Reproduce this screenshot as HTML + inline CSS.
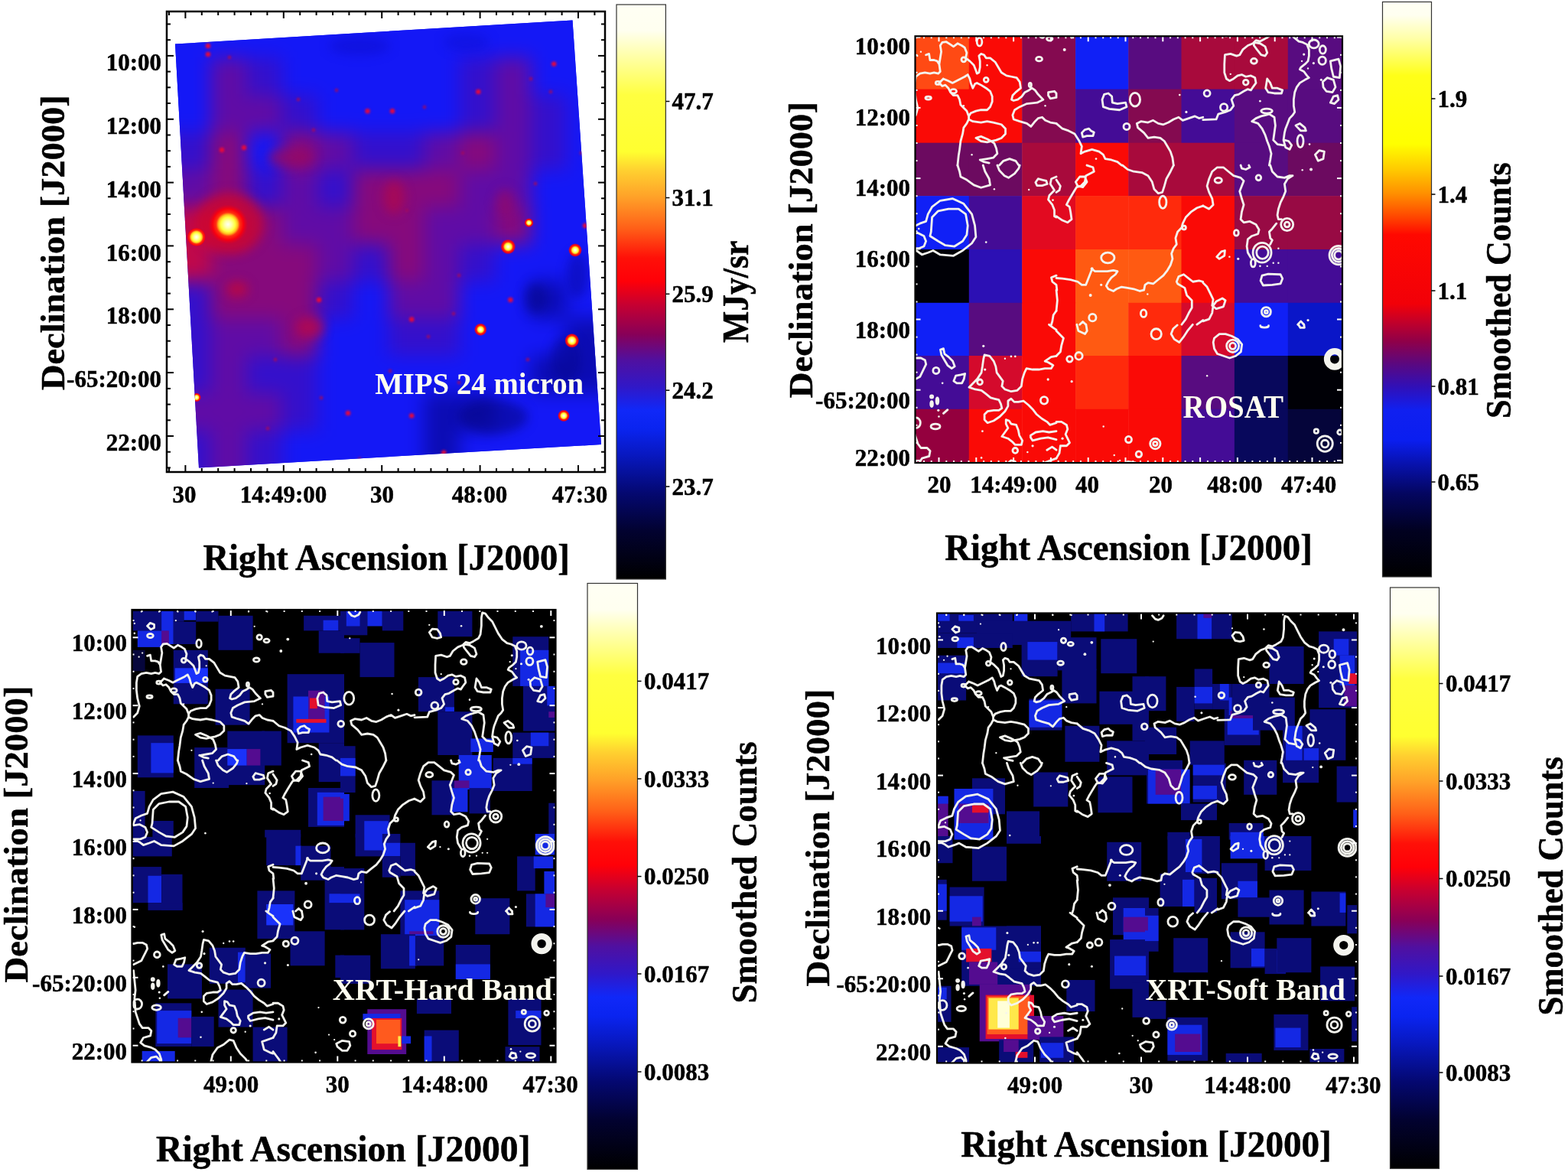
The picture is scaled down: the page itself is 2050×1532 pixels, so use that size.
<!DOCTYPE html>
<html><head><meta charset="utf-8"><title>Figure</title>
<style>html,body{margin:0;padding:0;background:#fff;}svg{display:block;}text{font-family:'Liberation Serif','Times New Roman',serif;font-weight:bold}text[fill="#000"]{stroke:#000;stroke-width:0.5px}</style>
</head><body>
<svg width="2050" height="1532" viewBox="0 0 2050 1532">
<defs><linearGradient id="cm" x1="0" y1="0" x2="0" y2="1"><stop offset="0.0" stop-color="#fffff4"/><stop offset="0.023" stop-color="#fffff0"/><stop offset="0.063" stop-color="#ffffa8"/><stop offset="0.128" stop-color="#ffff18"/><stop offset="0.247" stop-color="#ffff00"/><stop offset="0.293" stop-color="#ffc800"/><stop offset="0.333" stop-color="#ff9000"/><stop offset="0.373" stop-color="#ff4800"/><stop offset="0.405" stop-color="#ff0800"/><stop offset="0.525" stop-color="#f20008"/><stop offset="0.557" stop-color="#c2002a"/><stop offset="0.59" stop-color="#900048"/><stop offset="0.63" stop-color="#5a0880"/><stop offset="0.67" stop-color="#3010b8"/><stop offset="0.71" stop-color="#1020f0"/><stop offset="0.762" stop-color="#0a1ef0"/><stop offset="0.802" stop-color="#0812b0"/><stop offset="0.855" stop-color="#040660"/><stop offset="0.92" stop-color="#010120"/><stop offset="1.0" stop-color="#000000"/></linearGradient><linearGradient id="cm1" x1="0" y1="0" x2="0" y2="1"><stop offset="0.0" stop-color="#fffff4"/><stop offset="0.045" stop-color="#fffff0"/><stop offset="0.09" stop-color="#ffffa8"/><stop offset="0.157" stop-color="#ffff40"/><stop offset="0.256" stop-color="#ffff30"/><stop offset="0.289" stop-color="#ffd030"/><stop offset="0.336" stop-color="#ffa028"/><stop offset="0.389" stop-color="#ff6018"/><stop offset="0.441" stop-color="#ff1008"/><stop offset="0.481" stop-color="#ff0008"/><stop offset="0.521" stop-color="#c80030"/><stop offset="0.574" stop-color="#880058"/><stop offset="0.619" stop-color="#5010a0"/><stop offset="0.666" stop-color="#3018c8"/><stop offset="0.706" stop-color="#1028f8"/><stop offset="0.738" stop-color="#0a24f0"/><stop offset="0.784" stop-color="#0818c0"/><stop offset="0.851" stop-color="#040870"/><stop offset="0.916" stop-color="#020230"/><stop offset="1.0" stop-color="#000000"/></linearGradient><g id="contours" fill="none" stroke="#f4f4ee" stroke-width="2.8" stroke-linejoin="round" stroke-linecap="round"><g transform="translate(172.0 797.0) scale(0.12857)"><path vector-effect="non-scaling-stroke" d="M 20 1090 L 60 1050 L 80 980 L 60 900 L 50 820 L 50 740 L 60 680 L 100 650 L 150 640 L 200 650 L 240 640 L 280 650 L 300 630 L 290 560 L 300 500 L 310 440 L 300 380 L 320 350 L 360 345 L 400 370 L 430 390 L 470 360 L 510 380 L 540 400 L 560 450 L 550 500 L 590 530 L 630 570 L 650 620 L 660 650 L 680 640 L 690 590 L 690 530 L 680 480 L 700 460 L 730 470 L 750 500 L 790 500 L 840 540 L 870 590 L 900 640 L 950 670 L 1000 680 L 1050 690 L 1080 730 L 1090 790 L 1040 830 L 1010 860 L 1000 900 L 1020 910 L 1060 900 L 1100 870 L 1130 830 L 1170 810 L 1200 790 L 1230 810 L 1260 850 L 1290 880 L 1310 900 L 1250 930 L 1150 940 L 1080 970 L 1030 1000 L 1010 1050 L 1020 1090 L 1080 1110 L 1150 1130 L 1190 1160 L 1230 1110 L 1260 1080 L 1300 1070 L 1330 1100 L 1380 1120 L 1439 1130 M 330 700 L 380 720 L 420 740 L 460 720 L 500 700 L 540 680 L 570 660 L 590 700 L 600 740 L 620 790 L 640 750 L 660 740 L 700 760 L 750 790 L 790 820 L 810 870 L 810 920 L 790 970 L 760 1000 L 700 1000 L 650 1010 L 600 1030 L 580 1060 L 580 1090 L 560 1130 L 530 1170 L 520 1230 L 500 1300 L 490 1380 L 480 1440 L 470 1532 M 580 1090 L 620 1110 L 700 1120 L 760 1110 L 820 1120 L 900 1140 L 940 1180 L 940 1230 L 900 1270 L 850 1290 L 800 1300 L 830 1320 L 850 1370 L 860 1420 L 820 1460 L 760 1470 L 700 1480 M 330 700 L 290 740 L 320 770 L 350 760 L 380 790 L 400 830 L 430 860 L 470 860 L 490 900 L 500 950 L 530 980 L 560 1010 L 580 1060 M 160 470 L 190 460 L 200 520 L 240 520 L 270 530 L 290 560 M 880 1532 L 920 1490 L 980 1470 L 1040 1490 L 1070 1532 M 690 1480 L 730 1500 L 780 1510 M 650 1270 L 700 1255 L 760 1280 L 800 1300 L 760 1310 L 700 1300 Z M 1360 830 L 1420 820 L 1439 840 L 1439 880 L 1380 890 L 1360 860 Z M 1170 760 a 12 20 0 1 0 24 0 a 12 20 0 1 0 -24 0 M 160 165 L 190 135 L 230 150 L 230 185 L 195 200 Z M 160 265 a 30 20 0 1 0 60 0 a 30 20 0 1 0 -60 0 M 660 345 a 25 40 0 1 0 50 0 a 25 40 0 1 0 -50 0 M 508 515 a 22 22 0 1 0 44 0 a 22 22 0 1 0 -44 0 M 728 710 a 22 22 0 1 0 44 0 a 22 22 0 1 0 -44 0 M 1240 510 a 30 20 0 1 0 60 0 a 30 20 0 1 0 -60 0 M 1275 280 a 25 25 0 1 0 50 0 a 25 25 0 1 0 -50 0 M 1345 315 a 28 18 0 1 0 56 0 a 28 18 0 1 0 -56 0 M 155 885 a 28 15 0 1 0 56 0 a 28 15 0 1 0 -56 0 M 400 820 a 30 20 0 1 0 60 0 a 30 20 0 1 0 -60 0 M 255 740 a 22 15 0 1 0 44 0 a 22 15 0 1 0 -44 0" /><circle cx="1250.0" cy="170.0" r="9" stroke="none" fill="#f4f4ee"/><circle cx="450.0" cy="110.0" r="9" stroke="none" fill="#f4f4ee"/><circle cx="75.0" cy="480.0" r="9" stroke="none" fill="#f4f4ee"/><circle cx="280.0" cy="20.0" r="9" stroke="none" fill="#f4f4ee"/><circle cx="100.0" cy="20.0" r="9" stroke="none" fill="#f4f4ee"/><circle cx="470.0" cy="20.0" r="9" stroke="none" fill="#f4f4ee"/><circle cx="650.0" cy="20.0" r="9" stroke="none" fill="#f4f4ee"/><circle cx="820.0" cy="20.0" r="9" stroke="none" fill="#f4f4ee"/><circle cx="1190.0" cy="20.0" r="9" stroke="none" fill="#f4f4ee"/><circle cx="1380.0" cy="20.0" r="9" stroke="none" fill="#f4f4ee"/><circle cx="760.0" cy="570.0" r="9" stroke="none" fill="#f4f4ee"/><circle cx="1330.0" cy="960.0" r="9" stroke="none" fill="#f4f4ee"/><circle cx="610.0" cy="1430.0" r="9" stroke="none" fill="#f4f4ee"/><circle cx="530.0" cy="960.0" r="9" stroke="none" fill="#f4f4ee"/><circle cx="110.0" cy="440.0" r="9" stroke="none" fill="#f4f4ee"/><circle cx="30.0" cy="240.0" r="10.0" stroke="none" fill="#f4f4ee"/><circle cx="30.0" cy="140.0" r="9" stroke="none" fill="#f4f4ee"/></g><g transform="translate(357.0 797.0) scale(0.12857)"><path vector-effect="non-scaling-stroke" d="M 0 1130 L 60 1180 L 120 1200 L 180 1230 L 220 1290 L 250 1350 L 240 1420 L 280 1400 L 350 1380 L 420 1400 L 460 1430 L 480 1470 L 540 1480 L 600 1500 L 640 1532 M 790 1130 L 830 1110 L 900 1120 L 950 1100 L 1000 1130 L 1050 1140 L 1100 1120 L 1150 1090 L 1200 1070 L 1240 1100 L 1300 1080 L 1360 1060 L 1400 1080 L 1439 1070 M 790 1130 L 800 1170 L 860 1220 L 900 1270 L 960 1260 L 1020 1270 L 1060 1300 L 1090 1350 L 1120 1400 L 1140 1460 L 1150 1532 M 250 1220 L 280 1190 L 320 1180 L 340 1200 L 370 1215 L 360 1250 L 300 1250 L 260 1260 Z M 450 900 L 470 850 L 510 840 L 545 870 L 550 930 L 600 940 L 680 930 L 690 970 L 620 1000 L 520 990 L 460 970 Z M 722 900 a 50 65 0 1 0 100 0 a 50 65 0 1 0 -100 0 M 660 1160 a 30 30 0 1 0 60 0 a 30 30 0 1 0 -60 0 M 770 25 L 800 60 L 830 70 L 870 50 L 885 25" /><circle cx="150.0" cy="300.0" r="15.0" stroke="none" fill="#f4f4ee"/><circle cx="80.0" cy="420.0" r="15.0" stroke="none" fill="#f4f4ee"/><circle cx="1210.0" cy="855.0" r="10.0" stroke="none" fill="#f4f4ee"/><circle cx="1275.0" cy="1020.0" r="12.0" stroke="none" fill="#f4f4ee"/><circle cx="390.0" cy="1470.0" r="10.0" stroke="none" fill="#f4f4ee"/><circle cx="780.0" cy="290.0" r="9" stroke="none" fill="#f4f4ee"/></g><g transform="translate(542.0 797.0) scale(0.12857)"><path vector-effect="non-scaling-stroke" d="M 0 1095 L 130 1090 L 150 1040 L 220 1020 L 270 1000 L 300 960 L 280 900 L 310 860 L 350 850 L 400 820 L 440 800 L 470 810 L 490 780 L 520 740 L 510 690 L 470 670 L 420 680 L 380 660 L 340 670 L 300 700 L 260 720 L 230 700 L 210 640 L 210 560 L 215 470 L 270 460 L 330 480 L 360 470 L 390 420 L 440 380 L 490 360 L 520 330 L 560 340 L 600 320 L 650 290 L 670 250 L 680 160 L 680 80 L 690 30 L 720 40 L 750 80 L 790 120 L 820 180 L 850 240 L 890 300 L 940 340 L 980 350 L 1020 370 L 1040 420 L 1040 480 L 1030 530 L 1000 560 L 960 590 L 950 610 L 990 630 L 1020 670 L 1040 690 L 1000 710 L 950 740 L 920 780 L 900 830 L 890 900 L 890 960 L 900 1020 L 880 1050 L 850 1080 L 830 1130 L 810 1180 L 800 1220 L 790 1290 L 810 1360 L 850 1380 L 870 1340 L 840 1300 L 800 1290 M 480 1110 L 520 1080 L 570 1060 L 610 1050 L 650 1040 L 700 1070 L 710 1150 L 700 1220 L 690 1290 L 730 1330 L 790 1340 M 480 1110 L 540 1130 L 580 1180 L 610 1240 L 630 1300 L 650 1350 L 670 1420 L 660 1480 L 650 1532 M 570 1010 a 55 22 0 1 0 110 0 a 55 22 0 1 0 -110 0 M 150 230 L 180 195 L 230 200 L 260 240 L 270 280 L 230 290 L 180 280 Z M 500 350 L 560 360 L 610 390 L 630 450 L 610 480 L 570 470 L 530 420 L 500 380 Z M 470 530 a 30 25 0 1 0 60 0 a 30 25 0 1 0 -60 0 M 395 735 a 25 25 0 1 0 50 0 a 25 25 0 1 0 -50 0 M 10 840 a 30 30 0 1 0 60 0 a 30 30 0 1 0 -60 0 M 170 975 a 35 35 0 1 0 70 0 a 35 35 0 1 0 -70 0 M 630 700 L 660 740 L 680 790 L 730 790 L 780 810 L 770 840 L 700 840 L 640 830 L 615 790 Z M 1040 365 a 48 40 0 1 0 96 0 a 48 40 0 1 0 -96 0 M 1145 420 a 30 38 0 1 0 60 0 a 30 38 0 1 0 -60 0 M 1135 525 a 35 38 0 1 0 70 0 a 35 38 0 1 0 -70 0 M 1250 530 L 1330 510 L 1350 580 L 1340 690 L 1280 680 L 1260 600 Z M 1175 730 L 1220 690 L 1280 710 L 1300 780 L 1270 830 L 1210 820 L 1180 780 Z M 1250 930 L 1280 870 L 1320 860 L 1330 900 L 1290 940 Z M 910 1150 L 950 1130 L 1000 1170 L 1010 1200 L 960 1200 Z M 925 1300 a 30 60 0 1 0 60 0 a 30 60 0 1 0 -60 0 M 1100 1430 L 1140 1390 L 1190 1400 L 1180 1470 L 1130 1490 Z" /><circle cx="1290.0" cy="170.0" r="15.0" stroke="none" fill="#f4f4ee"/><circle cx="150.0" cy="155.0" r="9" stroke="none" fill="#f4f4ee"/><circle cx="270.0" cy="655.0" r="9" stroke="none" fill="#f4f4ee"/><circle cx="560.0" cy="915.0" r="10.0" stroke="none" fill="#f4f4ee"/><circle cx="990.0" cy="465.0" r="12.0" stroke="none" fill="#f4f4ee"/><circle cx="1085.0" cy="550.0" r="12.0" stroke="none" fill="#f4f4ee"/><circle cx="1030.0" cy="600.0" r="9" stroke="none" fill="#f4f4ee"/><circle cx="1160.0" cy="710.0" r="12.0" stroke="none" fill="#f4f4ee"/><circle cx="1045.0" cy="1330.0" r="10.0" stroke="none" fill="#f4f4ee"/><circle cx="970.0" cy="530.0" r="9" stroke="none" fill="#f4f4ee"/><circle cx="475.0" cy="165.0" r="10.0" stroke="none" fill="#f4f4ee"/></g><g transform="translate(172.0 994.0) scale(0.12857)"><path vector-effect="non-scaling-stroke" d="M 470 0 L 490 60 L 500 110 L 560 140 L 630 190 L 700 215 L 790 190 L 780 130 L 740 60 L 720 0 M 860 0 L 880 50 L 930 100 L 970 120 L 1030 80 L 1070 30 L 1080 0 M 1235 165 L 1260 130 L 1300 140 L 1340 150 L 1350 180 L 1300 195 L 1250 195 Z M 1439 110 L 1390 130 L 1380 180 L 1420 240 L 1370 290 L 1360 330 L 1400 380 L 1420 430 L 1420 490 L 1439 500 M 20 800 L 80 830 L 120 860 L 180 840 L 230 820 L 300 860 L 430 870 L 520 820 L 610 750 L 650 690 L 640 580 L 610 470 L 530 370 L 420 320 L 300 340 L 220 400 L 180 470 L 160 540 L 100 560 L 40 590 L 20 640 M 20 660 L 80 650 L 140 680 L 160 730 L 140 780 L 90 800 L 20 800 M 210 640 L 220 500 L 280 440 L 380 420 L 480 420 L 550 470 L 570 580 L 560 670 L 520 730 L 440 780 L 350 770 L 280 730 L 200 680 Z M 1439 1060 L 1390 1080 L 1400 1120 L 1439 1150 L 1445 1200 M 1439 1400 L 1410 1440 L 1400 1500 L 1390 1532" /><circle cx="750.0" cy="740.0" r="10.0" stroke="none" fill="#f4f4ee"/><circle cx="830.0" cy="230.0" r="9" stroke="none" fill="#f4f4ee"/><circle cx="1170.0" cy="235.0" r="9" stroke="none" fill="#f4f4ee"/><circle cx="1405.0" cy="335.0" r="10.0" stroke="none" fill="#f4f4ee"/><circle cx="90.0" cy="610.0" r="9" stroke="none" fill="#f4f4ee"/><circle cx="110.0" cy="850.0" r="10.0" stroke="none" fill="#f4f4ee"/></g><g transform="translate(357.0 994.0) scale(0.12857)"><path vector-effect="non-scaling-stroke" d="M 650 0 L 700 40 L 760 60 L 840 70 L 900 100 L 940 160 L 960 230 L 1000 270 L 1040 260 L 1060 200 L 1080 130 L 1120 60 L 1150 0 M 0 140 L 40 200 L 30 240 L 0 260 M 0 490 L 60 530 L 110 550 L 150 520 L 140 450 L 130 400 L 100 380 L 120 340 L 150 290 L 180 240 L 200 210 L 240 200 L 280 160 L 290 100 L 330 80 L 370 60 L 360 20 L 300 0 M 190 160 L 230 110 L 280 110 L 300 160 L 260 210 L 210 200 Z M 1010 355 a 35 60 0 1 0 70 0 a 35 60 0 1 0 -70 0 M 1439 390 L 1380 410 L 1320 450 L 1270 500 L 1240 560 L 1230 600 L 1190 640 L 1170 700 L 1180 760 L 1150 800 L 1130 850 L 1140 900 L 1120 960 L 1090 1010 L 1050 1060 L 1000 1100 L 950 1140 L 900 1130 L 870 1150 L 860 1200 L 820 1210 L 760 1190 L 700 1180 L 640 1170 L 590 1190 L 560 1210 L 510 1190 L 490 1160 L 510 1120 L 540 1080 L 580 1050 L 600 1020 L 560 1010 L 500 1020 L 440 1020 L 380 1020 L 350 1000 L 330 1050 L 310 1100 L 290 1150 L 250 1150 L 210 1120 L 140 1100 L 60 1090 L 0 1085 M 440 890 a 65 50 0 1 0 130 0 a 65 50 0 1 0 -130 0 M 1439 1120 L 1400 1110 L 1340 1120 L 1300 1090 L 1250 1050 L 1200 1070 L 1180 1120 L 1190 1140 L 1260 1180 L 1280 1250 L 1330 1300 L 1330 1370 L 1300 1420 L 1270 1480 L 1230 1532 M 320 1465 a 35 35 0 1 0 70 0 a 35 35 0 1 0 -70 0 M 828 1425 a 28 35 0 1 0 56 0 a 28 35 0 1 0 -56 0 M 1235 600 a 18 18 0 1 0 36 0 a 18 18 0 1 0 -36 0 M 0 1200 L 10 1300 L 0 1400 M 1380 1532 L 1439 1490 M 230 1532 L 260 1505 L 290 1532" /><circle cx="335.0" cy="1250.0" r="15.0" stroke="none" fill="#f4f4ee"/><circle cx="440.0" cy="1150.0" r="12.0" stroke="none" fill="#f4f4ee"/><circle cx="895.0" cy="1240.0" r="9" stroke="none" fill="#f4f4ee"/><circle cx="350.0" cy="995.0" r="15.0" stroke="none" fill="#f4f4ee"/></g><g transform="translate(542.0 994.0) scale(0.12857)"><path vector-effect="non-scaling-stroke" d="M 0 390 L 60 420 L 100 380 L 90 320 L 60 260 L 40 200 L 60 130 L 90 60 L 140 20 L 200 20 L 250 60 L 300 100 L 370 120 L 400 150 L 380 200 L 360 250 L 380 320 L 400 380 L 380 450 L 370 520 L 400 550 L 460 540 L 520 570 L 550 620 L 540 660 L 480 680 L 440 710 L 430 780 L 440 840 L 470 890 M 660 0 L 680 60 L 730 110 L 800 120 L 850 100 L 880 100 L 830 130 L 800 180 L 810 250 L 790 300 L 760 360 L 740 420 L 730 480 L 740 520 L 770 520 M 720 560 L 680 610 L 650 640 L 660 700 L 680 720 L 660 760 M 370 0 L 380 30 L 420 40 L 460 20 L 450 0 M 490 840 a 90 95 0 1 0 180 0 a 90 95 0 1 0 -180 0 M 525 840 a 58 60 0 1 0 116 0 a 58 60 0 1 0 -116 0 M 765 570 a 60 60 0 1 0 120 0 a 60 60 0 1 0 -120 0 M 800 570 a 25 25 0 1 0 50 0 a 25 25 0 1 0 -50 0 M 1240 865 a 90 90 0 1 0 180 0 a 90 90 0 1 0 -180 0 M 1265 865 a 65 65 0 1 0 130 0 a 65 65 0 1 0 -130 0 M 1290 865 a 40 40 0 1 0 80 0 a 40 40 0 1 0 -80 0 M 580 1060 L 640 1045 L 760 1050 L 780 1090 L 760 1140 L 680 1150 L 590 1155 L 565 1110 Z M 575 1410 a 45 45 0 1 0 90 0 a 45 45 0 1 0 -90 0 M 605 1410 a 15 15 0 1 0 30 0 a 15 15 0 1 0 -30 0 M 115 145 a 35 25 0 1 0 70 0 a 35 25 0 1 0 -70 0 M 520 120 a 25 25 0 1 0 50 0 a 25 25 0 1 0 -50 0 M 305 650 a 22 28 0 1 0 44 0 a 22 28 0 1 0 -44 0 M 135 880 L 180 830 L 215 820 L 210 870 L 160 900 Z M 470 940 a 22 38 0 1 0 44 0 a 22 38 0 1 0 -44 0 M 0 1130 L 40 1170 L 70 1230 L 100 1290 L 90 1350 L 130 1380 L 200 1360 L 220 1300 L 190 1280 L 130 1310 L 100 1350 L 90 1420 L 60 1480 L 0 1500 M 930 1532 L 960 1500 L 990 1532" /><circle cx="1060.0" cy="40.0" r="15.0" stroke="none" fill="#f4f4ee"/><circle cx="345.0" cy="900.0" r="12.0" stroke="none" fill="#f4f4ee"/><circle cx="260.0" cy="880.0" r="9" stroke="none" fill="#f4f4ee"/><circle cx="1030.0" cy="1490.0" r="12.0" stroke="none" fill="#f4f4ee"/><circle cx="690.0" cy="940.0" r="9" stroke="none" fill="#f4f4ee"/><circle cx="740.0" cy="940.0" r="9" stroke="none" fill="#f4f4ee"/><circle cx="740.0" cy="800.0" r="9" stroke="none" fill="#f4f4ee"/><circle cx="630.0" cy="970.0" r="9" stroke="none" fill="#f4f4ee"/><circle cx="975.0" cy="45.0" r="9" stroke="none" fill="#f4f4ee"/><circle cx="560.0" cy="970.0" r="10.0" stroke="none" fill="#f4f4ee"/></g><g transform="translate(172.0 1191.0) scale(0.12928)"><path vector-effect="non-scaling-stroke" d="M 20 330 L 60 320 L 110 320 L 150 340 L 160 380 L 140 420 L 120 460 L 100 500 L 60 520 L 20 540 M 20 600 L 30 700 L 40 800 L 30 880 L 40 1020 L 60 1080 L 80 1140 L 110 1180 L 170 1180 L 200 1210 L 190 1260 L 120 1280 L 90 1330 L 130 1360 L 200 1380 L 240 1400 L 280 1440 L 300 1500 L 300 1532 M 150 1532 L 200 1480 L 250 1470 L 280 1500 M 15 940 a 45 50 0 1 0 90 0 a 45 50 0 1 0 -90 0 M 300 240 L 330 230 L 340 280 L 380 310 L 420 350 L 440 400 L 410 420 L 370 390 L 340 340 L 310 290 Z M 228 440 a 30 30 0 1 0 60 0 a 30 30 0 1 0 -60 0 M 430 540 L 450 490 L 500 480 L 540 470 L 530 520 L 510 560 L 460 560 Z M 203 690 a 12 12 0 1 0 24 0 a 12 12 0 1 0 -24 0 M 205 760 a 10 25 0 1 0 20 0 a 10 25 0 1 0 -20 0 M 260 730 a 10 30 0 1 0 20 0 a 10 30 0 1 0 -20 0 M 330 850 L 370 815 M 207 975 a 45 25 0 1 0 90 0 a 45 25 0 1 0 -90 0 M 580 600 L 620 560 L 660 520 L 700 460 L 710 400 L 720 330 L 730 290 L 780 300 L 820 350 L 840 400 L 850 460 L 880 500 L 910 540 L 900 590 L 930 620 L 990 640 L 1050 630 L 1090 590 L 1100 520 L 1120 460 L 1140 420 L 1200 430 L 1260 430 L 1320 420 L 1380 420 L 1400 390 L 1350 360 L 1320 350 L 1380 310 L 1431 300 M 580 600 L 640 620 L 700 630 L 740 660 L 790 700 L 830 710 L 870 720 L 890 760 L 900 800 L 870 820 L 820 820 L 760 830 L 730 860 L 730 910 L 760 940 L 820 920 L 880 880 L 930 830 L 960 780 L 960 730 L 990 710 L 1020 740 L 1060 740 L 1110 730 L 1160 770 L 1200 810 L 1240 860 L 1290 900 L 1340 930 L 1370 960 L 1431 940 M 660 550 a 25 25 0 1 0 50 0 a 25 25 0 1 0 -50 0 M 1277 725 a 35 35 0 1 0 70 0 a 35 35 0 1 0 -70 0 M 940 910 L 970 920 L 990 950 L 1040 960 L 1060 1010 L 1070 1060 L 1100 1110 L 1090 1150 L 1030 1150 L 1000 1120 L 960 1090 L 900 1070 L 930 1030 L 960 990 L 940 950 Z M 1431 1020 L 1360 1030 L 1300 1020 L 1230 1030 L 1180 1060 L 1180 1080 L 1200 1110 L 1280 1090 L 1350 1080 L 1431 1100 M 1005 1205 a 25 25 0 1 0 50 0 a 25 25 0 1 0 -50 0 M 800 1532 L 820 1450 L 870 1380 L 930 1350 L 990 1300 L 1030 1310 L 1060 1380 L 1100 1440 L 1150 1490 L 1180 1532 M 1340 1200 L 1390 1170 L 1431 1200 M 1431 1280 L 1320 1320 L 1340 1400 L 1400 1430 L 1431 1440 M 1360 0 L 1400 30 L 1431 50" /><circle cx="30.0" cy="160.0" r="10.0" stroke="none" fill="#f4f4ee"/><circle cx="720.0" cy="205.0" r="12.0" stroke="none" fill="#f4f4ee"/><circle cx="320.0" cy="560.0" r="10.0" stroke="none" fill="#f4f4ee"/><circle cx="710.0" cy="1020.0" r="10.0" stroke="none" fill="#f4f4ee"/><circle cx="700.0" cy="1275.0" r="10.0" stroke="none" fill="#f4f4ee"/><circle cx="1350.0" cy="525.0" r="12.0" stroke="none" fill="#f4f4ee"/><circle cx="1200.0" cy="1160.0" r="12.0" stroke="none" fill="#f4f4ee"/><circle cx="1150.0" cy="1220.0" r="9" stroke="none" fill="#f4f4ee"/><circle cx="930.0" cy="325.0" r="9" stroke="none" fill="#f4f4ee"/><circle cx="990.0" cy="305.0" r="10.0" stroke="none" fill="#f4f4ee"/><circle cx="1030.0" cy="305.0" r="10.0" stroke="none" fill="#f4f4ee"/><circle cx="735.0" cy="430.0" r="12.0" stroke="none" fill="#f4f4ee"/><circle cx="280.0" cy="820.0" r="12.0" stroke="none" fill="#f4f4ee"/><circle cx="285.0" cy="880.0" r="10.0" stroke="none" fill="#f4f4ee"/></g><g transform="translate(357.0 1191.0) scale(0.12928)"><path vector-effect="non-scaling-stroke" d="M 0 60 L 40 100 L 70 130 L 50 200 L 40 260 L 0 300 M 200 0 L 215 60 L 280 90 L 300 60 L 290 0 M 102 330 a 28 28 0 1 0 56 0 a 28 28 0 1 0 -56 0 M 185 300 a 35 35 0 1 0 70 0 a 35 35 0 1 0 -70 0 M 925 90 a 50 50 0 1 0 100 0 a 50 50 0 1 0 -100 0 M 1330 0 L 1280 60 L 1240 120 L 1200 170 L 1150 140 L 1120 90 L 1140 40 L 1180 5 M 0 930 L 50 930 L 100 960 L 110 1000 L 90 1050 L 130 1130 L 100 1160 L 40 1160 L 30 1230 L 0 1280 M 0 1420 L 30 1460 L 60 1500 L 80 1532 M 675 1100 a 30 30 0 1 0 60 0 a 30 30 0 1 0 -60 0 M 915 1140 a 50 50 0 1 0 100 0 a 50 50 0 1 0 -100 0 M 945 1140 a 20 20 0 1 0 40 0 a 20 20 0 1 0 -40 0 M 777 1240 a 28 28 0 1 0 56 0 a 28 28 0 1 0 -56 0 M 640 1340 L 700 1310 L 770 1320 L 780 1360 L 750 1410 L 700 1410 L 650 1370 Z" /><circle cx="150.0" cy="545.0" r="12.0" stroke="none" fill="#f4f4ee"/><circle cx="460.0" cy="975.0" r="9" stroke="none" fill="#f4f4ee"/><circle cx="430.0" cy="1430.0" r="10.0" stroke="none" fill="#f4f4ee"/><circle cx="565.0" cy="1250.0" r="9" stroke="none" fill="#f4f4ee"/><circle cx="620.0" cy="1300.0" r="9" stroke="none" fill="#f4f4ee"/><circle cx="60.0" cy="1090.0" r="12.0" stroke="none" fill="#f4f4ee"/></g><g transform="translate(542.0 1191.0) scale(0.12928)"><path vector-effect="non-scaling-stroke" d="M 110 130 L 160 90 L 220 90 L 280 110 L 340 140 L 380 190 L 370 260 L 320 300 L 260 320 L 200 300 L 140 280 L 110 230 L 100 170 Z M 230 205 a 60 60 0 1 0 120 0 a 60 60 0 1 0 -120 0 M 260 205 a 30 30 0 1 0 60 0 a 30 30 0 1 0 -60 0 M 1190 330 a 95 95 0 1 0 190 0 a 95 95 0 1 0 -190 0 M 1210 330 a 75 75 0 1 0 150 0 a 75 75 0 1 0 -150 0 M 1230 330 a 55 55 0 1 0 110 0 a 55 55 0 1 0 -110 0 M 1115 1140 a 75 75 0 1 0 150 0 a 75 75 0 1 0 -150 0 M 1155 1140 a 35 35 0 1 0 70 0 a 35 35 0 1 0 -70 0 M 1085 1020 a 20 20 0 1 0 40 0 a 20 20 0 1 0 -40 0 M 1313 1030 a 22 22 0 1 0 44 0 a 22 22 0 1 0 -44 0 M 960 1470 L 980 1430 L 1020 1440 L 1030 1480 L 990 1490 Z M 1130 1460 a 45 22 0 1 0 90 0 a 45 22 0 1 0 -90 0 M 560 10 a 40 18 0 1 0 80 0 M 930 0 L 950 30 L 990 30 L 985 0" /><circle cx="40.0" cy="490.0" r="9" stroke="none" fill="#f4f4ee"/><circle cx="975.0" cy="1395.0" r="10.0" stroke="none" fill="#f4f4ee"/><circle cx="1070.0" cy="1420.0" r="9" stroke="none" fill="#f4f4ee"/></g></g><clipPath id="c1"><polygon points="229,57.5 748.5,26.5 786,581 260,611.5"/></clipPath><filter id="bl18" color-interpolation-filters="sRGB" x="-10%" y="-10%" width="120%" height="120%"><feGaussianBlur stdDeviation="12"/></filter><filter id="bl8" color-interpolation-filters="sRGB" x="-30%" y="-30%" width="160%" height="160%"><feGaussianBlur stdDeviation="7"/></filter><filter id="bl2" color-interpolation-filters="sRGB" x="-50%" y="-50%" width="200%" height="200%"><feGaussianBlur stdDeviation="1.6"/></filter><radialGradient id="st298_293"><stop offset="0" stop-color="#fffff4"/><stop offset="0.17" stop-color="#ffffb0"/><stop offset="0.36" stop-color="#ffff40"/><stop offset="0.48" stop-color="#ffc020"/><stop offset="0.60" stop-color="#ff3010"/><stop offset="0.78" stop-color="#f80010"/><stop offset="1" stop-color="#e00020" stop-opacity="0"/></radialGradient><radialGradient id="st256_309"><stop offset="0" stop-color="#fffff4"/><stop offset="0.22" stop-color="#ffffb0"/><stop offset="0.47" stop-color="#ffff40"/><stop offset="0.62" stop-color="#ffc020"/><stop offset="0.74" stop-color="#ff3010"/><stop offset="0.93" stop-color="#f80010"/><stop offset="1" stop-color="#e00020" stop-opacity="0"/></radialGradient><radialGradient id="st664_322"><stop offset="0" stop-color="#fffff4"/><stop offset="0.17" stop-color="#ffffb0"/><stop offset="0.38" stop-color="#ffff40"/><stop offset="0.50" stop-color="#ffc020"/><stop offset="0.62" stop-color="#ff3010"/><stop offset="0.80" stop-color="#f80010"/><stop offset="1" stop-color="#e00020" stop-opacity="0"/></radialGradient><radialGradient id="st752_327"><stop offset="0" stop-color="#fffff4"/><stop offset="0.17" stop-color="#ffffb0"/><stop offset="0.38" stop-color="#ffff40"/><stop offset="0.50" stop-color="#ffc020"/><stop offset="0.62" stop-color="#ff3010"/><stop offset="0.80" stop-color="#f80010"/><stop offset="1" stop-color="#e00020" stop-opacity="0"/></radialGradient><radialGradient id="st628_430"><stop offset="0" stop-color="#fffff4"/><stop offset="0.16" stop-color="#ffffb0"/><stop offset="0.35" stop-color="#ffff40"/><stop offset="0.47" stop-color="#ffc020"/><stop offset="0.59" stop-color="#ff3010"/><stop offset="0.77" stop-color="#f80010"/><stop offset="1" stop-color="#e00020" stop-opacity="0"/></radialGradient><radialGradient id="st747_445"><stop offset="0" stop-color="#fffff4"/><stop offset="0.18" stop-color="#ffffb0"/><stop offset="0.39" stop-color="#ffff40"/><stop offset="0.53" stop-color="#ffc020"/><stop offset="0.65" stop-color="#ff3010"/><stop offset="0.83" stop-color="#f80010"/><stop offset="1" stop-color="#e00020" stop-opacity="0"/></radialGradient><radialGradient id="st737_543"><stop offset="0" stop-color="#fffff4"/><stop offset="0.17" stop-color="#ffffb0"/><stop offset="0.38" stop-color="#ffff40"/><stop offset="0.50" stop-color="#ffc020"/><stop offset="0.62" stop-color="#ff3010"/><stop offset="0.80" stop-color="#f80010"/><stop offset="1" stop-color="#e00020" stop-opacity="0"/></radialGradient><radialGradient id="st691_291"><stop offset="0" stop-color="#fffff4"/><stop offset="0.17" stop-color="#ffffb0"/><stop offset="0.38" stop-color="#ffff40"/><stop offset="0.50" stop-color="#ffc020"/><stop offset="0.62" stop-color="#ff3010"/><stop offset="0.80" stop-color="#f80010"/><stop offset="1" stop-color="#e00020" stop-opacity="0"/></radialGradient><radialGradient id="st257_519"><stop offset="0" stop-color="#fffff4"/><stop offset="0.17" stop-color="#ffffb0"/><stop offset="0.38" stop-color="#ffff40"/><stop offset="0.50" stop-color="#ffc020"/><stop offset="0.62" stop-color="#ff3010"/><stop offset="0.80" stop-color="#f80010"/><stop offset="1" stop-color="#e00020" stop-opacity="0"/></radialGradient><clipPath id="c2"><rect x="1196.5" y="47.3" width="558.5" height="557.7"/></clipPath><clipPath id="c3"><rect x="172.5" y="797" width="554.0" height="591.5"/></clipPath><clipPath id="c4"><rect x="1225" y="801.5" width="550" height="588.0"/></clipPath></defs>
<rect width="2050" height="1532" fill="#fff"/>
<g clip-path="url(#c1)">
<rect x="200" y="0" width="620" height="640" fill="#1418f0"/>
<g filter="url(#bl18)">
<rect x="182.5" y="-21.7" width="47.0" height="49.2" fill="#1418f6"/>
<rect x="229.0" y="-21.7" width="47.0" height="49.2" fill="#1418f6"/>
<rect x="275.5" y="-21.7" width="47.0" height="49.2" fill="#1418f6"/>
<rect x="322.0" y="-21.7" width="47.0" height="49.2" fill="#1418f6"/>
<rect x="368.5" y="-21.7" width="47.0" height="49.2" fill="#1418f6"/>
<rect x="415.0" y="-21.7" width="47.0" height="49.2" fill="#1418f6"/>
<rect x="461.5" y="-21.7" width="47.0" height="49.2" fill="#1418f6"/>
<rect x="508.0" y="-21.7" width="47.0" height="49.2" fill="#1418f6"/>
<rect x="554.5" y="-21.7" width="47.0" height="49.2" fill="#1418f6"/>
<rect x="601.0" y="-21.7" width="47.0" height="49.2" fill="#1418f6"/>
<rect x="647.5" y="-21.7" width="47.0" height="49.2" fill="#1418f6"/>
<rect x="694.0" y="-21.7" width="47.0" height="49.2" fill="#1418f6"/>
<rect x="740.5" y="-21.7" width="47.0" height="49.2" fill="#1418f6"/>
<rect x="787.0" y="-21.7" width="47.0" height="49.2" fill="#1418f6"/>
<rect x="182.5" y="27.0" width="47.0" height="49.2" fill="#1418f6"/>
<rect x="229.0" y="27.0" width="47.0" height="49.2" fill="#1418f6"/>
<rect x="275.5" y="27.0" width="47.0" height="49.2" fill="#1418f6"/>
<rect x="322.0" y="27.0" width="47.0" height="49.2" fill="#1418f6"/>
<rect x="368.5" y="27.0" width="47.0" height="49.2" fill="#1418f6"/>
<rect x="415.0" y="27.0" width="47.0" height="49.2" fill="#1418f6"/>
<rect x="461.5" y="27.0" width="47.0" height="49.2" fill="#1418f6"/>
<rect x="508.0" y="27.0" width="47.0" height="49.2" fill="#1418f6"/>
<rect x="554.5" y="27.0" width="47.0" height="49.2" fill="#1418f6"/>
<rect x="601.0" y="27.0" width="47.0" height="49.2" fill="#1418f6"/>
<rect x="647.5" y="27.0" width="47.0" height="49.2" fill="#1418f6"/>
<rect x="694.0" y="27.0" width="47.0" height="49.2" fill="#1418f6"/>
<rect x="740.5" y="27.0" width="47.0" height="49.2" fill="#1418f6"/>
<rect x="787.0" y="27.0" width="47.0" height="49.2" fill="#1418f6"/>
<rect x="182.5" y="75.7" width="47.0" height="49.2" fill="#1418f6"/>
<rect x="229.0" y="75.7" width="47.0" height="49.2" fill="#1418f6"/>
<rect x="275.5" y="75.7" width="47.0" height="49.2" fill="#600ca6"/>
<rect x="322.0" y="75.7" width="47.0" height="49.2" fill="#3410cc"/>
<rect x="368.5" y="75.7" width="47.0" height="49.2" fill="#1418f6"/>
<rect x="415.0" y="75.7" width="47.0" height="49.2" fill="#1418f6"/>
<rect x="461.5" y="75.7" width="47.0" height="49.2" fill="#1418f6"/>
<rect x="508.0" y="75.7" width="47.0" height="49.2" fill="#1418f6"/>
<rect x="554.5" y="75.7" width="47.0" height="49.2" fill="#1418f6"/>
<rect x="601.0" y="75.7" width="47.0" height="49.2" fill="#3410cc"/>
<rect x="647.5" y="75.7" width="47.0" height="49.2" fill="#600ca6"/>
<rect x="694.0" y="75.7" width="47.0" height="49.2" fill="#1418f6"/>
<rect x="740.5" y="75.7" width="47.0" height="49.2" fill="#1418f6"/>
<rect x="787.0" y="75.7" width="47.0" height="49.2" fill="#1418f6"/>
<rect x="182.5" y="124.3" width="47.0" height="49.2" fill="#1418f6"/>
<rect x="229.0" y="124.3" width="47.0" height="49.2" fill="#1418f6"/>
<rect x="275.5" y="124.3" width="47.0" height="49.2" fill="#600ca6"/>
<rect x="322.0" y="124.3" width="47.0" height="49.2" fill="#600ca6"/>
<rect x="368.5" y="124.3" width="47.0" height="49.2" fill="#3410cc"/>
<rect x="415.0" y="124.3" width="47.0" height="49.2" fill="#1418f6"/>
<rect x="461.5" y="124.3" width="47.0" height="49.2" fill="#1418f6"/>
<rect x="508.0" y="124.3" width="47.0" height="49.2" fill="#1418f6"/>
<rect x="554.5" y="124.3" width="47.0" height="49.2" fill="#1418f6"/>
<rect x="601.0" y="124.3" width="47.0" height="49.2" fill="#3410cc"/>
<rect x="647.5" y="124.3" width="47.0" height="49.2" fill="#600ca6"/>
<rect x="694.0" y="124.3" width="47.0" height="49.2" fill="#3410cc"/>
<rect x="740.5" y="124.3" width="47.0" height="49.2" fill="#1418f6"/>
<rect x="787.0" y="124.3" width="47.0" height="49.2" fill="#1418f6"/>
<rect x="182.5" y="173.0" width="47.0" height="49.2" fill="#3410cc"/>
<rect x="229.0" y="173.0" width="47.0" height="49.2" fill="#3410cc"/>
<rect x="275.5" y="173.0" width="47.0" height="49.2" fill="#860a7c"/>
<rect x="322.0" y="173.0" width="47.0" height="49.2" fill="#1418f6"/>
<rect x="368.5" y="173.0" width="47.0" height="49.2" fill="#860a7c"/>
<rect x="415.0" y="173.0" width="47.0" height="49.2" fill="#600ca6"/>
<rect x="461.5" y="173.0" width="47.0" height="49.2" fill="#3410cc"/>
<rect x="508.0" y="173.0" width="47.0" height="49.2" fill="#3410cc"/>
<rect x="554.5" y="173.0" width="47.0" height="49.2" fill="#600ca6"/>
<rect x="601.0" y="173.0" width="47.0" height="49.2" fill="#860a7c"/>
<rect x="647.5" y="173.0" width="47.0" height="49.2" fill="#600ca6"/>
<rect x="694.0" y="173.0" width="47.0" height="49.2" fill="#3410cc"/>
<rect x="740.5" y="173.0" width="47.0" height="49.2" fill="#1418f6"/>
<rect x="787.0" y="173.0" width="47.0" height="49.2" fill="#1418f6"/>
<rect x="182.5" y="221.7" width="47.0" height="49.2" fill="#600ca6"/>
<rect x="229.0" y="221.7" width="47.0" height="49.2" fill="#600ca6"/>
<rect x="275.5" y="221.7" width="47.0" height="49.2" fill="#860a7c"/>
<rect x="322.0" y="221.7" width="47.0" height="49.2" fill="#3410cc"/>
<rect x="368.5" y="221.7" width="47.0" height="49.2" fill="#600ca6"/>
<rect x="415.0" y="221.7" width="47.0" height="49.2" fill="#3410cc"/>
<rect x="461.5" y="221.7" width="47.0" height="49.2" fill="#860a7c"/>
<rect x="508.0" y="221.7" width="47.0" height="49.2" fill="#860a7c"/>
<rect x="554.5" y="221.7" width="47.0" height="49.2" fill="#860a7c"/>
<rect x="601.0" y="221.7" width="47.0" height="49.2" fill="#600ca6"/>
<rect x="647.5" y="221.7" width="47.0" height="49.2" fill="#600ca6"/>
<rect x="694.0" y="221.7" width="47.0" height="49.2" fill="#1418f6"/>
<rect x="740.5" y="221.7" width="47.0" height="49.2" fill="#1418f6"/>
<rect x="787.0" y="221.7" width="47.0" height="49.2" fill="#1418f6"/>
<rect x="182.5" y="270.4" width="47.0" height="49.2" fill="#c0084a"/>
<rect x="229.0" y="270.4" width="47.0" height="49.2" fill="#c0084a"/>
<rect x="275.5" y="270.4" width="47.0" height="49.2" fill="#c0084a"/>
<rect x="322.0" y="270.4" width="47.0" height="49.2" fill="#860a7c"/>
<rect x="368.5" y="270.4" width="47.0" height="49.2" fill="#600ca6"/>
<rect x="415.0" y="270.4" width="47.0" height="49.2" fill="#600ca6"/>
<rect x="461.5" y="270.4" width="47.0" height="49.2" fill="#860a7c"/>
<rect x="508.0" y="270.4" width="47.0" height="49.2" fill="#860a7c"/>
<rect x="554.5" y="270.4" width="47.0" height="49.2" fill="#600ca6"/>
<rect x="601.0" y="270.4" width="47.0" height="49.2" fill="#600ca6"/>
<rect x="647.5" y="270.4" width="47.0" height="49.2" fill="#860a7c"/>
<rect x="694.0" y="270.4" width="47.0" height="49.2" fill="#1418f6"/>
<rect x="740.5" y="270.4" width="47.0" height="49.2" fill="#1418f6"/>
<rect x="787.0" y="270.4" width="47.0" height="49.2" fill="#1418f6"/>
<rect x="182.5" y="319.0" width="47.0" height="49.2" fill="#c0084a"/>
<rect x="229.0" y="319.0" width="47.0" height="49.2" fill="#c0084a"/>
<rect x="275.5" y="319.0" width="47.0" height="49.2" fill="#860a7c"/>
<rect x="322.0" y="319.0" width="47.0" height="49.2" fill="#860a7c"/>
<rect x="368.5" y="319.0" width="47.0" height="49.2" fill="#860a7c"/>
<rect x="415.0" y="319.0" width="47.0" height="49.2" fill="#600ca6"/>
<rect x="461.5" y="319.0" width="47.0" height="49.2" fill="#3410cc"/>
<rect x="508.0" y="319.0" width="47.0" height="49.2" fill="#860a7c"/>
<rect x="554.5" y="319.0" width="47.0" height="49.2" fill="#600ca6"/>
<rect x="601.0" y="319.0" width="47.0" height="49.2" fill="#3410cc"/>
<rect x="647.5" y="319.0" width="47.0" height="49.2" fill="#1418f6"/>
<rect x="694.0" y="319.0" width="47.0" height="49.2" fill="#1418f6"/>
<rect x="740.5" y="319.0" width="47.0" height="49.2" fill="#1418f6"/>
<rect x="787.0" y="319.0" width="47.0" height="49.2" fill="#1418f6"/>
<rect x="182.5" y="367.7" width="47.0" height="49.2" fill="#3410cc"/>
<rect x="229.0" y="367.7" width="47.0" height="49.2" fill="#3410cc"/>
<rect x="275.5" y="367.7" width="47.0" height="49.2" fill="#860a7c"/>
<rect x="322.0" y="367.7" width="47.0" height="49.2" fill="#860a7c"/>
<rect x="368.5" y="367.7" width="47.0" height="49.2" fill="#860a7c"/>
<rect x="415.0" y="367.7" width="47.0" height="49.2" fill="#3410cc"/>
<rect x="461.5" y="367.7" width="47.0" height="49.2" fill="#1418f6"/>
<rect x="508.0" y="367.7" width="47.0" height="49.2" fill="#600ca6"/>
<rect x="554.5" y="367.7" width="47.0" height="49.2" fill="#600ca6"/>
<rect x="601.0" y="367.7" width="47.0" height="49.2" fill="#1418f6"/>
<rect x="647.5" y="367.7" width="47.0" height="49.2" fill="#1418f6"/>
<rect x="694.0" y="367.7" width="47.0" height="49.2" fill="#0c0cb4"/>
<rect x="740.5" y="367.7" width="47.0" height="49.2" fill="#1418f6"/>
<rect x="787.0" y="367.7" width="47.0" height="49.2" fill="#1418f6"/>
<rect x="182.5" y="416.4" width="47.0" height="49.2" fill="#3410cc"/>
<rect x="229.0" y="416.4" width="47.0" height="49.2" fill="#3410cc"/>
<rect x="275.5" y="416.4" width="47.0" height="49.2" fill="#600ca6"/>
<rect x="322.0" y="416.4" width="47.0" height="49.2" fill="#600ca6"/>
<rect x="368.5" y="416.4" width="47.0" height="49.2" fill="#860a7c"/>
<rect x="415.0" y="416.4" width="47.0" height="49.2" fill="#1418f6"/>
<rect x="461.5" y="416.4" width="47.0" height="49.2" fill="#1418f6"/>
<rect x="508.0" y="416.4" width="47.0" height="49.2" fill="#3410cc"/>
<rect x="554.5" y="416.4" width="47.0" height="49.2" fill="#3410cc"/>
<rect x="601.0" y="416.4" width="47.0" height="49.2" fill="#1418f6"/>
<rect x="647.5" y="416.4" width="47.0" height="49.2" fill="#1418f6"/>
<rect x="694.0" y="416.4" width="47.0" height="49.2" fill="#1418f6"/>
<rect x="740.5" y="416.4" width="47.0" height="49.2" fill="#0c0cb4"/>
<rect x="787.0" y="416.4" width="47.0" height="49.2" fill="#0c0cb4"/>
<rect x="182.5" y="465.0" width="47.0" height="49.2" fill="#3410cc"/>
<rect x="229.0" y="465.0" width="47.0" height="49.2" fill="#3410cc"/>
<rect x="275.5" y="465.0" width="47.0" height="49.2" fill="#600ca6"/>
<rect x="322.0" y="465.0" width="47.0" height="49.2" fill="#3410cc"/>
<rect x="368.5" y="465.0" width="47.0" height="49.2" fill="#3410cc"/>
<rect x="415.0" y="465.0" width="47.0" height="49.2" fill="#1418f6"/>
<rect x="461.5" y="465.0" width="47.0" height="49.2" fill="#1418f6"/>
<rect x="508.0" y="465.0" width="47.0" height="49.2" fill="#1418f6"/>
<rect x="554.5" y="465.0" width="47.0" height="49.2" fill="#1418f6"/>
<rect x="601.0" y="465.0" width="47.0" height="49.2" fill="#1418f6"/>
<rect x="647.5" y="465.0" width="47.0" height="49.2" fill="#1418f6"/>
<rect x="694.0" y="465.0" width="47.0" height="49.2" fill="#0c0cb4"/>
<rect x="740.5" y="465.0" width="47.0" height="49.2" fill="#0c0cb4"/>
<rect x="787.0" y="465.0" width="47.0" height="49.2" fill="#0c0cb4"/>
<rect x="182.5" y="513.7" width="47.0" height="49.2" fill="#600ca6"/>
<rect x="229.0" y="513.7" width="47.0" height="49.2" fill="#600ca6"/>
<rect x="275.5" y="513.7" width="47.0" height="49.2" fill="#600ca6"/>
<rect x="322.0" y="513.7" width="47.0" height="49.2" fill="#600ca6"/>
<rect x="368.5" y="513.7" width="47.0" height="49.2" fill="#3410cc"/>
<rect x="415.0" y="513.7" width="47.0" height="49.2" fill="#1418f6"/>
<rect x="461.5" y="513.7" width="47.0" height="49.2" fill="#1418f6"/>
<rect x="508.0" y="513.7" width="47.0" height="49.2" fill="#1418f6"/>
<rect x="554.5" y="513.7" width="47.0" height="49.2" fill="#0c0cb4"/>
<rect x="601.0" y="513.7" width="47.0" height="49.2" fill="#0c0cb4"/>
<rect x="647.5" y="513.7" width="47.0" height="49.2" fill="#1418f6"/>
<rect x="694.0" y="513.7" width="47.0" height="49.2" fill="#1418f6"/>
<rect x="740.5" y="513.7" width="47.0" height="49.2" fill="#1418f6"/>
<rect x="787.0" y="513.7" width="47.0" height="49.2" fill="#1418f6"/>
<rect x="182.5" y="562.4" width="47.0" height="49.2" fill="#3410cc"/>
<rect x="229.0" y="562.4" width="47.0" height="49.2" fill="#3410cc"/>
<rect x="275.5" y="562.4" width="47.0" height="49.2" fill="#600ca6"/>
<rect x="322.0" y="562.4" width="47.0" height="49.2" fill="#3410cc"/>
<rect x="368.5" y="562.4" width="47.0" height="49.2" fill="#1418f6"/>
<rect x="415.0" y="562.4" width="47.0" height="49.2" fill="#1418f6"/>
<rect x="461.5" y="562.4" width="47.0" height="49.2" fill="#1418f6"/>
<rect x="508.0" y="562.4" width="47.0" height="49.2" fill="#1418f6"/>
<rect x="554.5" y="562.4" width="47.0" height="49.2" fill="#0c0cb4"/>
<rect x="601.0" y="562.4" width="47.0" height="49.2" fill="#1418f6"/>
<rect x="647.5" y="562.4" width="47.0" height="49.2" fill="#1418f6"/>
<rect x="694.0" y="562.4" width="47.0" height="49.2" fill="#1418f6"/>
<rect x="740.5" y="562.4" width="47.0" height="49.2" fill="#1418f6"/>
<rect x="787.0" y="562.4" width="47.0" height="49.2" fill="#1418f6"/>
<rect x="182.5" y="611.0" width="47.0" height="49.2" fill="#3410cc"/>
<rect x="229.0" y="611.0" width="47.0" height="49.2" fill="#3410cc"/>
<rect x="275.5" y="611.0" width="47.0" height="49.2" fill="#600ca6"/>
<rect x="322.0" y="611.0" width="47.0" height="49.2" fill="#3410cc"/>
<rect x="368.5" y="611.0" width="47.0" height="49.2" fill="#1418f6"/>
<rect x="415.0" y="611.0" width="47.0" height="49.2" fill="#1418f6"/>
<rect x="461.5" y="611.0" width="47.0" height="49.2" fill="#1418f6"/>
<rect x="508.0" y="611.0" width="47.0" height="49.2" fill="#1418f6"/>
<rect x="554.5" y="611.0" width="47.0" height="49.2" fill="#0c0cb4"/>
<rect x="601.0" y="611.0" width="47.0" height="49.2" fill="#1418f6"/>
<rect x="647.5" y="611.0" width="47.0" height="49.2" fill="#1418f6"/>
<rect x="694.0" y="611.0" width="47.0" height="49.2" fill="#1418f6"/>
<rect x="740.5" y="611.0" width="47.0" height="49.2" fill="#1418f6"/>
<rect x="787.0" y="611.0" width="47.0" height="49.2" fill="#1418f6"/>
</g>
<g filter="url(#bl8)">
<ellipse cx="310" cy="378" rx="14" ry="10" fill="#c0083c" fill-opacity="0.8"/>
<ellipse cx="405" cy="428" rx="18" ry="14" fill="#b8084a" fill-opacity="0.8"/>
<ellipse cx="380" cy="206" rx="30" ry="12" fill="#9a0860" fill-opacity="0.7"/>
<ellipse cx="515" cy="258" rx="14" ry="22" fill="#b0084c" fill-opacity="0.7"/>
<ellipse cx="660" cy="265" rx="12" ry="18" fill="#9a0860" fill-opacity="0.6"/>
<ellipse cx="645" cy="545" rx="45" ry="22" fill="#06068a" fill-opacity="0.6"/>
<ellipse cx="700" cy="390" rx="14" ry="20" fill="#06068a" fill-opacity="0.6"/>
<ellipse cx="755" cy="360" rx="14" ry="30" fill="#0808a0" fill-opacity="0.5"/>
<ellipse cx="740" cy="470" rx="20" ry="30" fill="#06068c" fill-opacity="0.5"/>
<ellipse cx="470" cy="60" rx="40" ry="12" fill="#0a0ac0" fill-opacity="0.4"/>
<ellipse cx="610" cy="55" rx="30" ry="12" fill="#0a0ac0" fill-opacity="0.3"/>
<ellipse cx="300" cy="292" rx="45" ry="40" fill="#d0062a" fill-opacity="0.7"/>
</g>
<circle cx="298.1" cy="293.3" r="26" fill="url(#st298_293)"/>
<circle cx="256.8" cy="309.9" r="12" fill="url(#st256_309)"/>
<circle cx="664.3" cy="322.5" r="10" fill="url(#st664_322)"/>
<circle cx="752" cy="327" r="9" fill="url(#st752_327)"/>
<circle cx="628.3" cy="430.8" r="8.5" fill="url(#st628_430)"/>
<circle cx="747.7" cy="445.3" r="9.5" fill="url(#st747_445)"/>
<circle cx="737" cy="543.4" r="8" fill="url(#st737_543)"/>
<circle cx="691.5" cy="291.2" r="6" fill="url(#st691_291)"/>
<circle cx="257" cy="519.5" r="6" fill="url(#st257_519)"/>
<circle cx="480.5" cy="145.3" r="3.2" fill="#e8083a" filter="url(#bl2)"/>
<circle cx="513" cy="145.3" r="3.2" fill="#e8083a" filter="url(#bl2)"/>
<circle cx="625.3" cy="119.9" r="3.2" fill="#e8083a" filter="url(#bl2)"/>
<circle cx="667.4" cy="392" r="3.2" fill="#e8083a" filter="url(#bl2)"/>
<circle cx="538.2" cy="417.5" r="3.2" fill="#e8083a" filter="url(#bl2)"/>
<circle cx="538.2" cy="543.4" r="3.2" fill="#e8083a" filter="url(#bl2)"/>
<circle cx="580.3" cy="591.8" r="3.2" fill="#e8083a" filter="url(#bl2)"/>
<circle cx="724.2" cy="83.6" r="3.2" fill="#e8083a" filter="url(#bl2)"/>
<circle cx="765" cy="295" r="3.2" fill="#e8083a" filter="url(#bl2)"/>
<circle cx="319" cy="193" r="3.2" fill="#e8083a" filter="url(#bl2)"/>
<circle cx="290" cy="196" r="3.2" fill="#e8083a" filter="url(#bl2)"/>
<circle cx="455" cy="540" r="3.2" fill="#e8083a" filter="url(#bl2)"/>
<circle cx="417" cy="392" r="3.2" fill="#e8083a" filter="url(#bl2)"/>
<circle cx="272" cy="60" r="3.2" fill="#e8083a" filter="url(#bl2)"/>
<circle cx="272" cy="71" r="3.2" fill="#e8083a" filter="url(#bl2)"/>
<circle cx="300" cy="75" r="2.2" fill="#a00a60" filter="url(#bl2)"/>
<circle cx="390" cy="130" r="2.2" fill="#a00a60" filter="url(#bl2)"/>
<circle cx="440" cy="118" r="2.2" fill="#a00a60" filter="url(#bl2)"/>
<circle cx="410" cy="170" r="2.2" fill="#a00a60" filter="url(#bl2)"/>
<circle cx="555" cy="140" r="2.2" fill="#a00a60" filter="url(#bl2)"/>
<circle cx="605" cy="200" r="2.2" fill="#a00a60" filter="url(#bl2)"/>
<circle cx="700" cy="240" r="2.2" fill="#a00a60" filter="url(#bl2)"/>
<circle cx="600" cy="360" r="2.2" fill="#a00a60" filter="url(#bl2)"/>
<circle cx="360" cy="470" r="2.2" fill="#a00a60" filter="url(#bl2)"/>
<circle cx="420" cy="520" r="2.2" fill="#a00a60" filter="url(#bl2)"/>
<circle cx="350" cy="560" r="2.2" fill="#a00a60" filter="url(#bl2)"/>
<circle cx="600" cy="500" r="2.2" fill="#a00a60" filter="url(#bl2)"/>
<circle cx="690" cy="470" r="2.2" fill="#a00a60" filter="url(#bl2)"/>
<circle cx="560" cy="440" r="2.2" fill="#a00a60" filter="url(#bl2)"/>
<circle cx="470" cy="600" r="2.2" fill="#a00a60" filter="url(#bl2)"/>
<circle cx="720" cy="120" r="2.2" fill="#a00a60" filter="url(#bl2)"/>
<circle cx="760" cy="200" r="2.2" fill="#a00a60" filter="url(#bl2)"/>
<circle cx="532" cy="275" r="2.2" fill="#a00a60" filter="url(#bl2)"/>
<circle cx="694" cy="103" r="2.2" fill="#a00a60" filter="url(#bl2)"/>
<circle cx="510" cy="485" r="2.2" fill="#a00a60" filter="url(#bl2)"/>
<circle cx="593" cy="410" r="2.2" fill="#a00a60" filter="url(#bl2)"/>
</g>
<rect x="218" y="15" width="573" height="602" fill="none" stroke="#000" stroke-width="2.5"/>
<line x1="221.0" y1="15" x2="221.0" y2="20" stroke="#000" stroke-width="2"/>
<line x1="221.0" y1="617" x2="221.0" y2="612" stroke="#000" stroke-width="2"/>
<line x1="242.4" y1="15" x2="242.4" y2="24" stroke="#000" stroke-width="2"/>
<line x1="242.4" y1="617" x2="242.4" y2="608" stroke="#000" stroke-width="2"/>
<line x1="263.8" y1="15" x2="263.8" y2="20" stroke="#000" stroke-width="2"/>
<line x1="263.8" y1="617" x2="263.8" y2="612" stroke="#000" stroke-width="2"/>
<line x1="285.2" y1="15" x2="285.2" y2="20" stroke="#000" stroke-width="2"/>
<line x1="285.2" y1="617" x2="285.2" y2="612" stroke="#000" stroke-width="2"/>
<line x1="306.6" y1="15" x2="306.6" y2="20" stroke="#000" stroke-width="2"/>
<line x1="306.6" y1="617" x2="306.6" y2="612" stroke="#000" stroke-width="2"/>
<line x1="328.0" y1="15" x2="328.0" y2="20" stroke="#000" stroke-width="2"/>
<line x1="328.0" y1="617" x2="328.0" y2="612" stroke="#000" stroke-width="2"/>
<line x1="349.4" y1="15" x2="349.4" y2="20" stroke="#000" stroke-width="2"/>
<line x1="349.4" y1="617" x2="349.4" y2="612" stroke="#000" stroke-width="2"/>
<line x1="370.8" y1="15" x2="370.8" y2="24" stroke="#000" stroke-width="2"/>
<line x1="370.8" y1="617" x2="370.8" y2="608" stroke="#000" stroke-width="2"/>
<line x1="392.2" y1="15" x2="392.2" y2="20" stroke="#000" stroke-width="2"/>
<line x1="392.2" y1="617" x2="392.2" y2="612" stroke="#000" stroke-width="2"/>
<line x1="413.6" y1="15" x2="413.6" y2="20" stroke="#000" stroke-width="2"/>
<line x1="413.6" y1="617" x2="413.6" y2="612" stroke="#000" stroke-width="2"/>
<line x1="435.0" y1="15" x2="435.0" y2="20" stroke="#000" stroke-width="2"/>
<line x1="435.0" y1="617" x2="435.0" y2="612" stroke="#000" stroke-width="2"/>
<line x1="456.4" y1="15" x2="456.4" y2="20" stroke="#000" stroke-width="2"/>
<line x1="456.4" y1="617" x2="456.4" y2="612" stroke="#000" stroke-width="2"/>
<line x1="477.8" y1="15" x2="477.8" y2="20" stroke="#000" stroke-width="2"/>
<line x1="477.8" y1="617" x2="477.8" y2="612" stroke="#000" stroke-width="2"/>
<line x1="499.2" y1="15" x2="499.2" y2="24" stroke="#000" stroke-width="2"/>
<line x1="499.2" y1="617" x2="499.2" y2="608" stroke="#000" stroke-width="2"/>
<line x1="520.6" y1="15" x2="520.6" y2="20" stroke="#000" stroke-width="2"/>
<line x1="520.6" y1="617" x2="520.6" y2="612" stroke="#000" stroke-width="2"/>
<line x1="542.0" y1="15" x2="542.0" y2="20" stroke="#000" stroke-width="2"/>
<line x1="542.0" y1="617" x2="542.0" y2="612" stroke="#000" stroke-width="2"/>
<line x1="563.4" y1="15" x2="563.4" y2="20" stroke="#000" stroke-width="2"/>
<line x1="563.4" y1="617" x2="563.4" y2="612" stroke="#000" stroke-width="2"/>
<line x1="584.8" y1="15" x2="584.8" y2="20" stroke="#000" stroke-width="2"/>
<line x1="584.8" y1="617" x2="584.8" y2="612" stroke="#000" stroke-width="2"/>
<line x1="606.2" y1="15" x2="606.2" y2="20" stroke="#000" stroke-width="2"/>
<line x1="606.2" y1="617" x2="606.2" y2="612" stroke="#000" stroke-width="2"/>
<line x1="627.6" y1="15" x2="627.6" y2="24" stroke="#000" stroke-width="2"/>
<line x1="627.6" y1="617" x2="627.6" y2="608" stroke="#000" stroke-width="2"/>
<line x1="649.0" y1="15" x2="649.0" y2="20" stroke="#000" stroke-width="2"/>
<line x1="649.0" y1="617" x2="649.0" y2="612" stroke="#000" stroke-width="2"/>
<line x1="670.4" y1="15" x2="670.4" y2="20" stroke="#000" stroke-width="2"/>
<line x1="670.4" y1="617" x2="670.4" y2="612" stroke="#000" stroke-width="2"/>
<line x1="691.8" y1="15" x2="691.8" y2="20" stroke="#000" stroke-width="2"/>
<line x1="691.8" y1="617" x2="691.8" y2="612" stroke="#000" stroke-width="2"/>
<line x1="713.2" y1="15" x2="713.2" y2="20" stroke="#000" stroke-width="2"/>
<line x1="713.2" y1="617" x2="713.2" y2="612" stroke="#000" stroke-width="2"/>
<line x1="734.6" y1="15" x2="734.6" y2="20" stroke="#000" stroke-width="2"/>
<line x1="734.6" y1="617" x2="734.6" y2="612" stroke="#000" stroke-width="2"/>
<line x1="756.0" y1="15" x2="756.0" y2="24" stroke="#000" stroke-width="2"/>
<line x1="756.0" y1="617" x2="756.0" y2="608" stroke="#000" stroke-width="2"/>
<line x1="777.4" y1="15" x2="777.4" y2="20" stroke="#000" stroke-width="2"/>
<line x1="777.4" y1="617" x2="777.4" y2="612" stroke="#000" stroke-width="2"/>
<line x1="218" y1="31.5" x2="223" y2="31.5" stroke="#000" stroke-width="2"/>
<line x1="791" y1="31.5" x2="786" y2="31.5" stroke="#000" stroke-width="2"/>
<line x1="218" y1="52.2" x2="223" y2="52.2" stroke="#000" stroke-width="2"/>
<line x1="791" y1="52.2" x2="786" y2="52.2" stroke="#000" stroke-width="2"/>
<line x1="218" y1="72.9" x2="227" y2="72.9" stroke="#000" stroke-width="2"/>
<line x1="791" y1="72.9" x2="782" y2="72.9" stroke="#000" stroke-width="2"/>
<line x1="218" y1="93.6" x2="223" y2="93.6" stroke="#000" stroke-width="2"/>
<line x1="791" y1="93.6" x2="786" y2="93.6" stroke="#000" stroke-width="2"/>
<line x1="218" y1="114.3" x2="223" y2="114.3" stroke="#000" stroke-width="2"/>
<line x1="791" y1="114.3" x2="786" y2="114.3" stroke="#000" stroke-width="2"/>
<line x1="218" y1="135.0" x2="223" y2="135.0" stroke="#000" stroke-width="2"/>
<line x1="791" y1="135.0" x2="786" y2="135.0" stroke="#000" stroke-width="2"/>
<line x1="218" y1="155.8" x2="227" y2="155.8" stroke="#000" stroke-width="2"/>
<line x1="791" y1="155.8" x2="782" y2="155.8" stroke="#000" stroke-width="2"/>
<line x1="218" y1="176.5" x2="223" y2="176.5" stroke="#000" stroke-width="2"/>
<line x1="791" y1="176.5" x2="786" y2="176.5" stroke="#000" stroke-width="2"/>
<line x1="218" y1="197.2" x2="223" y2="197.2" stroke="#000" stroke-width="2"/>
<line x1="791" y1="197.2" x2="786" y2="197.2" stroke="#000" stroke-width="2"/>
<line x1="218" y1="217.9" x2="223" y2="217.9" stroke="#000" stroke-width="2"/>
<line x1="791" y1="217.9" x2="786" y2="217.9" stroke="#000" stroke-width="2"/>
<line x1="218" y1="238.6" x2="227" y2="238.6" stroke="#000" stroke-width="2"/>
<line x1="791" y1="238.6" x2="782" y2="238.6" stroke="#000" stroke-width="2"/>
<line x1="218" y1="259.3" x2="223" y2="259.3" stroke="#000" stroke-width="2"/>
<line x1="791" y1="259.3" x2="786" y2="259.3" stroke="#000" stroke-width="2"/>
<line x1="218" y1="280.0" x2="223" y2="280.0" stroke="#000" stroke-width="2"/>
<line x1="791" y1="280.0" x2="786" y2="280.0" stroke="#000" stroke-width="2"/>
<line x1="218" y1="300.7" x2="223" y2="300.7" stroke="#000" stroke-width="2"/>
<line x1="791" y1="300.7" x2="786" y2="300.7" stroke="#000" stroke-width="2"/>
<line x1="218" y1="321.4" x2="227" y2="321.4" stroke="#000" stroke-width="2"/>
<line x1="791" y1="321.4" x2="782" y2="321.4" stroke="#000" stroke-width="2"/>
<line x1="218" y1="342.2" x2="223" y2="342.2" stroke="#000" stroke-width="2"/>
<line x1="791" y1="342.2" x2="786" y2="342.2" stroke="#000" stroke-width="2"/>
<line x1="218" y1="362.9" x2="223" y2="362.9" stroke="#000" stroke-width="2"/>
<line x1="791" y1="362.9" x2="786" y2="362.9" stroke="#000" stroke-width="2"/>
<line x1="218" y1="383.6" x2="223" y2="383.6" stroke="#000" stroke-width="2"/>
<line x1="791" y1="383.6" x2="786" y2="383.6" stroke="#000" stroke-width="2"/>
<line x1="218" y1="404.3" x2="227" y2="404.3" stroke="#000" stroke-width="2"/>
<line x1="791" y1="404.3" x2="782" y2="404.3" stroke="#000" stroke-width="2"/>
<line x1="218" y1="425.0" x2="223" y2="425.0" stroke="#000" stroke-width="2"/>
<line x1="791" y1="425.0" x2="786" y2="425.0" stroke="#000" stroke-width="2"/>
<line x1="218" y1="445.7" x2="223" y2="445.7" stroke="#000" stroke-width="2"/>
<line x1="791" y1="445.7" x2="786" y2="445.7" stroke="#000" stroke-width="2"/>
<line x1="218" y1="466.4" x2="223" y2="466.4" stroke="#000" stroke-width="2"/>
<line x1="791" y1="466.4" x2="786" y2="466.4" stroke="#000" stroke-width="2"/>
<line x1="218" y1="487.1" x2="227" y2="487.1" stroke="#000" stroke-width="2"/>
<line x1="791" y1="487.1" x2="782" y2="487.1" stroke="#000" stroke-width="2"/>
<line x1="218" y1="507.9" x2="223" y2="507.9" stroke="#000" stroke-width="2"/>
<line x1="791" y1="507.9" x2="786" y2="507.9" stroke="#000" stroke-width="2"/>
<line x1="218" y1="528.6" x2="223" y2="528.6" stroke="#000" stroke-width="2"/>
<line x1="791" y1="528.6" x2="786" y2="528.6" stroke="#000" stroke-width="2"/>
<line x1="218" y1="549.3" x2="223" y2="549.3" stroke="#000" stroke-width="2"/>
<line x1="791" y1="549.3" x2="786" y2="549.3" stroke="#000" stroke-width="2"/>
<line x1="218" y1="570.0" x2="227" y2="570.0" stroke="#000" stroke-width="2"/>
<line x1="791" y1="570.0" x2="782" y2="570.0" stroke="#000" stroke-width="2"/>
<line x1="218" y1="590.7" x2="223" y2="590.7" stroke="#000" stroke-width="2"/>
<line x1="791" y1="590.7" x2="786" y2="590.7" stroke="#000" stroke-width="2"/>
<line x1="218" y1="611.4" x2="223" y2="611.4" stroke="#000" stroke-width="2"/>
<line x1="791" y1="611.4" x2="786" y2="611.4" stroke="#000" stroke-width="2"/>
<text x="0" y="0" font-size="31" text-anchor="end" fill="#000" transform="translate(211.0 92.3) scale(1 1.05)">10:00</text>
<text x="0" y="0" font-size="31" text-anchor="end" fill="#000" transform="translate(211.0 175.1) scale(1 1.05)">12:00</text>
<text x="0" y="0" font-size="31" text-anchor="end" fill="#000" transform="translate(211.0 257.8) scale(1 1.05)">14:00</text>
<text x="0" y="0" font-size="31" text-anchor="end" fill="#000" transform="translate(211.0 340.6) scale(1 1.05)">16:00</text>
<text x="0" y="0" font-size="31" text-anchor="end" fill="#000" transform="translate(211.0 423.3) scale(1 1.05)">18:00</text>
<text x="0" y="0" font-size="31" text-anchor="end" fill="#000" transform="translate(211.0 506.1) scale(1 1.05)">-65:20:00</text>
<text x="0" y="0" font-size="31" text-anchor="end" fill="#000" transform="translate(211.0 588.8) scale(1 1.05)">22:00</text>
<text x="0" y="0" font-size="31" text-anchor="middle" fill="#000" transform="translate(241.0 656.8) scale(1 1.05)">30</text>
<text x="0" y="0" font-size="31" text-anchor="middle" fill="#000" transform="translate(370.5 656.8) scale(1 1.05)">14:49:00</text>
<text x="0" y="0" font-size="31" text-anchor="middle" fill="#000" transform="translate(499.5 656.8) scale(1 1.05)">30</text>
<text x="0" y="0" font-size="31" text-anchor="middle" fill="#000" transform="translate(627.0 656.8) scale(1 1.05)">48:00</text>
<text x="0" y="0" font-size="31" text-anchor="middle" fill="#000" transform="translate(758.0 656.8) scale(1 1.05)">47:30</text>
<text x="0" y="0" font-size="46" text-anchor="start" fill="#000" textLength="479.5" lengthAdjust="spacingAndGlyphs" transform="translate(265.4 744.6) scale(1 1.07)">Right Ascension [J2000]</text>
<text x="0" y="0" font-size="45" text-anchor="middle" fill="#000" textLength="385.8" lengthAdjust="spacingAndGlyphs" transform="translate(83.8 317.2) rotate(-90)">Declination [J2000]</text>
<text x="0" y="0" font-size="40" text-anchor="start" fill="#fffff0" textLength="273.0" lengthAdjust="spacingAndGlyphs" transform="translate(490.2 514.6)">MIPS 24 micron</text>
<rect x="806" y="6" width="64.39999999999998" height="751" fill="url(#cm1)" stroke="#333" stroke-width="1.2"/>
<line x1="870.4" y1="132.5" x2="875.4" y2="132.5" stroke="#000" stroke-width="1.5"/>
<text x="0" y="0" font-size="31" text-anchor="start" fill="#000" transform="translate(878.5 143.0) scale(1 1.05)">47.7</text>
<line x1="870.4" y1="258.5" x2="875.4" y2="258.5" stroke="#000" stroke-width="1.5"/>
<text x="0" y="0" font-size="31" text-anchor="start" fill="#000" transform="translate(878.5 269.0) scale(1 1.05)">31.1</text>
<line x1="870.4" y1="384.3" x2="875.4" y2="384.3" stroke="#000" stroke-width="1.5"/>
<text x="0" y="0" font-size="31" text-anchor="start" fill="#000" transform="translate(878.5 394.8) scale(1 1.05)">25.9</text>
<line x1="870.4" y1="510.2" x2="875.4" y2="510.2" stroke="#000" stroke-width="1.5"/>
<text x="0" y="0" font-size="31" text-anchor="start" fill="#000" transform="translate(878.5 520.7) scale(1 1.05)">24.2</text>
<line x1="870.4" y1="636" x2="875.4" y2="636" stroke="#000" stroke-width="1.5"/>
<text x="0" y="0" font-size="31" text-anchor="start" fill="#000" transform="translate(878.5 646.5) scale(1 1.05)">23.7</text>
<text x="0" y="0" font-size="45" text-anchor="middle" fill="#000" textLength="133.3" lengthAdjust="spacingAndGlyphs" transform="translate(978.0 381.4) rotate(-90) scale(1 1.06)">MJy/sr</text>
<rect x="1196.5" y="47.3" width="70.79999999999995" height="69.8" fill="#ff4a14"/>
<rect x="1266.8" y="47.3" width="69.90000000000009" height="69.8" fill="#fa0a06"/>
<rect x="1336.2" y="47.3" width="70.39999999999986" height="69.8" fill="#840a50"/>
<rect x="1406.1" y="47.3" width="69.60000000000014" height="69.8" fill="#1020f6"/>
<rect x="1475.2" y="47.3" width="69.79999999999995" height="69.8" fill="#580c80"/>
<rect x="1544.5" y="47.3" width="69.90000000000009" height="69.8" fill="#a80a3c"/>
<rect x="1613.9" y="47.3" width="70.39999999999986" height="69.8" fill="#a80a3c"/>
<rect x="1683.8" y="47.3" width="71.70000000000005" height="69.8" fill="#580c80"/>
<rect x="1196.5" y="116.6" width="70.79999999999995" height="70.6" fill="#fa0a06"/>
<rect x="1266.8" y="116.6" width="69.90000000000009" height="70.6" fill="#fa0a06"/>
<rect x="1336.2" y="116.6" width="70.39999999999986" height="70.6" fill="#840a50"/>
<rect x="1406.1" y="116.6" width="69.60000000000014" height="70.6" fill="#440c96"/>
<rect x="1475.2" y="116.6" width="69.79999999999995" height="70.6" fill="#840a50"/>
<rect x="1544.5" y="116.6" width="69.90000000000009" height="70.6" fill="#440c96"/>
<rect x="1613.9" y="116.6" width="70.39999999999986" height="70.6" fill="#580c80"/>
<rect x="1683.8" y="116.6" width="71.70000000000005" height="70.6" fill="#580c80"/>
<rect x="1196.5" y="186.7" width="70.79999999999995" height="69.90000000000003" fill="#6c0a60"/>
<rect x="1266.8" y="186.7" width="69.90000000000009" height="69.90000000000003" fill="#6c0a60"/>
<rect x="1336.2" y="186.7" width="70.39999999999986" height="69.90000000000003" fill="#a80a3c"/>
<rect x="1406.1" y="186.7" width="69.60000000000014" height="69.90000000000003" fill="#fa0a06"/>
<rect x="1475.2" y="186.7" width="69.79999999999995" height="69.90000000000003" fill="#a80a3c"/>
<rect x="1544.5" y="186.7" width="69.90000000000009" height="69.90000000000003" fill="#a80a3c"/>
<rect x="1613.9" y="186.7" width="70.39999999999986" height="69.90000000000003" fill="#580c80"/>
<rect x="1683.8" y="186.7" width="71.70000000000005" height="69.90000000000003" fill="#6c0a60"/>
<rect x="1196.5" y="256.1" width="70.79999999999995" height="70.39999999999998" fill="#1020f6"/>
<rect x="1266.8" y="256.1" width="69.90000000000009" height="70.39999999999998" fill="#440c96"/>
<rect x="1336.2" y="256.1" width="70.39999999999986" height="70.39999999999998" fill="#e20a20"/>
<rect x="1406.1" y="256.1" width="69.60000000000014" height="70.39999999999998" fill="#ff2a0c"/>
<rect x="1475.2" y="256.1" width="69.79999999999995" height="70.39999999999998" fill="#ff2a0c"/>
<rect x="1544.5" y="256.1" width="69.90000000000009" height="70.39999999999998" fill="#fa0a06"/>
<rect x="1613.9" y="256.1" width="70.39999999999986" height="70.39999999999998" fill="#980a44"/>
<rect x="1683.8" y="256.1" width="71.70000000000005" height="70.39999999999998" fill="#980a44"/>
<rect x="1196.5" y="326" width="70.79999999999995" height="70.30000000000001" fill="#000006"/>
<rect x="1266.8" y="326" width="69.90000000000009" height="70.30000000000001" fill="#2c10b4"/>
<rect x="1336.2" y="326" width="70.39999999999986" height="70.30000000000001" fill="#fa0a06"/>
<rect x="1406.1" y="326" width="69.60000000000014" height="70.30000000000001" fill="#ff5a12"/>
<rect x="1475.2" y="326" width="69.79999999999995" height="70.30000000000001" fill="#ff5a12"/>
<rect x="1544.5" y="326" width="69.90000000000009" height="70.30000000000001" fill="#fa0a06"/>
<rect x="1613.9" y="326" width="70.39999999999986" height="70.30000000000001" fill="#440c96"/>
<rect x="1683.8" y="326" width="71.70000000000005" height="70.30000000000001" fill="#440c96"/>
<rect x="1196.5" y="395.8" width="70.79999999999995" height="69.69999999999999" fill="#1020f6"/>
<rect x="1266.8" y="395.8" width="69.90000000000009" height="69.69999999999999" fill="#580c80"/>
<rect x="1336.2" y="395.8" width="70.39999999999986" height="69.69999999999999" fill="#fa0a06"/>
<rect x="1406.1" y="395.8" width="69.60000000000014" height="69.69999999999999" fill="#ff5a12"/>
<rect x="1475.2" y="395.8" width="69.79999999999995" height="69.69999999999999" fill="#ff2a0c"/>
<rect x="1544.5" y="395.8" width="69.90000000000009" height="69.69999999999999" fill="#d40a2c"/>
<rect x="1613.9" y="395.8" width="70.39999999999986" height="69.69999999999999" fill="#1020f6"/>
<rect x="1683.8" y="395.8" width="71.70000000000005" height="69.69999999999999" fill="#0a16c8"/>
<rect x="1196.5" y="465" width="70.79999999999995" height="70.29999999999995" fill="#440c96"/>
<rect x="1266.8" y="465" width="69.90000000000009" height="70.29999999999995" fill="#d40a2c"/>
<rect x="1336.2" y="465" width="70.39999999999986" height="70.29999999999995" fill="#fa0a06"/>
<rect x="1406.1" y="465" width="69.60000000000014" height="70.29999999999995" fill="#ff2a0c"/>
<rect x="1475.2" y="465" width="69.79999999999995" height="70.29999999999995" fill="#fa0a06"/>
<rect x="1544.5" y="465" width="69.90000000000009" height="70.29999999999995" fill="#580c80"/>
<rect x="1613.9" y="465" width="70.39999999999986" height="70.29999999999995" fill="#08085c"/>
<rect x="1683.8" y="465" width="71.70000000000005" height="70.29999999999995" fill="#000006"/>
<rect x="1196.5" y="534.8" width="70.79999999999995" height="70.70000000000005" fill="#94003e"/>
<rect x="1266.8" y="534.8" width="69.90000000000009" height="70.70000000000005" fill="#fa0a06"/>
<rect x="1336.2" y="534.8" width="70.39999999999986" height="70.70000000000005" fill="#fa0a06"/>
<rect x="1406.1" y="534.8" width="69.60000000000014" height="70.70000000000005" fill="#fa0a06"/>
<rect x="1475.2" y="534.8" width="69.79999999999995" height="70.70000000000005" fill="#fa0a06"/>
<rect x="1544.5" y="534.8" width="69.90000000000009" height="70.70000000000005" fill="#440c96"/>
<rect x="1613.9" y="534.8" width="70.39999999999986" height="70.70000000000005" fill="#08085c"/>
<rect x="1683.8" y="534.8" width="71.70000000000005" height="70.70000000000005" fill="#05053a"/>
<g clip-path="url(#c2)">
<use href="#contours" transform="translate(1011 -834.5) scale(1.0365 1.0569)"/>
</g>
<line x1="1198.2" y1="47.3" x2="1198.2" y2="50.3" stroke="#fff" stroke-width="2"/>
<line x1="1198.2" y1="605" x2="1198.2" y2="602" stroke="#fff" stroke-width="2"/>
<line x1="1208.0" y1="47.3" x2="1208.0" y2="50.3" stroke="#fff" stroke-width="2"/>
<line x1="1208.0" y1="605" x2="1208.0" y2="602" stroke="#fff" stroke-width="2"/>
<line x1="1217.7" y1="47.3" x2="1217.7" y2="50.3" stroke="#fff" stroke-width="2"/>
<line x1="1217.7" y1="605" x2="1217.7" y2="602" stroke="#fff" stroke-width="2"/>
<line x1="1227.5" y1="47.3" x2="1227.5" y2="54.3" stroke="#fff" stroke-width="2"/>
<line x1="1227.5" y1="605" x2="1227.5" y2="598" stroke="#fff" stroke-width="2"/>
<line x1="1237.3" y1="47.3" x2="1237.3" y2="50.3" stroke="#fff" stroke-width="2"/>
<line x1="1237.3" y1="605" x2="1237.3" y2="602" stroke="#fff" stroke-width="2"/>
<line x1="1247.0" y1="47.3" x2="1247.0" y2="50.3" stroke="#fff" stroke-width="2"/>
<line x1="1247.0" y1="605" x2="1247.0" y2="602" stroke="#fff" stroke-width="2"/>
<line x1="1256.8" y1="47.3" x2="1256.8" y2="50.3" stroke="#fff" stroke-width="2"/>
<line x1="1256.8" y1="605" x2="1256.8" y2="602" stroke="#fff" stroke-width="2"/>
<line x1="1266.5" y1="47.3" x2="1266.5" y2="50.3" stroke="#fff" stroke-width="2"/>
<line x1="1266.5" y1="605" x2="1266.5" y2="602" stroke="#fff" stroke-width="2"/>
<line x1="1276.3" y1="47.3" x2="1276.3" y2="54.3" stroke="#fff" stroke-width="2"/>
<line x1="1276.3" y1="605" x2="1276.3" y2="598" stroke="#fff" stroke-width="2"/>
<line x1="1286.1" y1="47.3" x2="1286.1" y2="50.3" stroke="#fff" stroke-width="2"/>
<line x1="1286.1" y1="605" x2="1286.1" y2="602" stroke="#fff" stroke-width="2"/>
<line x1="1295.8" y1="47.3" x2="1295.8" y2="50.3" stroke="#fff" stroke-width="2"/>
<line x1="1295.8" y1="605" x2="1295.8" y2="602" stroke="#fff" stroke-width="2"/>
<line x1="1305.6" y1="47.3" x2="1305.6" y2="50.3" stroke="#fff" stroke-width="2"/>
<line x1="1305.6" y1="605" x2="1305.6" y2="602" stroke="#fff" stroke-width="2"/>
<line x1="1315.3" y1="47.3" x2="1315.3" y2="50.3" stroke="#fff" stroke-width="2"/>
<line x1="1315.3" y1="605" x2="1315.3" y2="602" stroke="#fff" stroke-width="2"/>
<line x1="1325.1" y1="47.3" x2="1325.1" y2="54.3" stroke="#fff" stroke-width="2"/>
<line x1="1325.1" y1="605" x2="1325.1" y2="598" stroke="#fff" stroke-width="2"/>
<line x1="1334.9" y1="47.3" x2="1334.9" y2="50.3" stroke="#fff" stroke-width="2"/>
<line x1="1334.9" y1="605" x2="1334.9" y2="602" stroke="#fff" stroke-width="2"/>
<line x1="1344.6" y1="47.3" x2="1344.6" y2="50.3" stroke="#fff" stroke-width="2"/>
<line x1="1344.6" y1="605" x2="1344.6" y2="602" stroke="#fff" stroke-width="2"/>
<line x1="1354.4" y1="47.3" x2="1354.4" y2="50.3" stroke="#fff" stroke-width="2"/>
<line x1="1354.4" y1="605" x2="1354.4" y2="602" stroke="#fff" stroke-width="2"/>
<line x1="1364.1" y1="47.3" x2="1364.1" y2="50.3" stroke="#fff" stroke-width="2"/>
<line x1="1364.1" y1="605" x2="1364.1" y2="602" stroke="#fff" stroke-width="2"/>
<line x1="1373.9" y1="47.3" x2="1373.9" y2="54.3" stroke="#fff" stroke-width="2"/>
<line x1="1373.9" y1="605" x2="1373.9" y2="598" stroke="#fff" stroke-width="2"/>
<line x1="1383.7" y1="47.3" x2="1383.7" y2="50.3" stroke="#fff" stroke-width="2"/>
<line x1="1383.7" y1="605" x2="1383.7" y2="602" stroke="#fff" stroke-width="2"/>
<line x1="1393.4" y1="47.3" x2="1393.4" y2="50.3" stroke="#fff" stroke-width="2"/>
<line x1="1393.4" y1="605" x2="1393.4" y2="602" stroke="#fff" stroke-width="2"/>
<line x1="1403.2" y1="47.3" x2="1403.2" y2="50.3" stroke="#fff" stroke-width="2"/>
<line x1="1403.2" y1="605" x2="1403.2" y2="602" stroke="#fff" stroke-width="2"/>
<line x1="1412.9" y1="47.3" x2="1412.9" y2="50.3" stroke="#fff" stroke-width="2"/>
<line x1="1412.9" y1="605" x2="1412.9" y2="602" stroke="#fff" stroke-width="2"/>
<line x1="1422.7" y1="47.3" x2="1422.7" y2="54.3" stroke="#fff" stroke-width="2"/>
<line x1="1422.7" y1="605" x2="1422.7" y2="598" stroke="#fff" stroke-width="2"/>
<line x1="1432.5" y1="47.3" x2="1432.5" y2="50.3" stroke="#fff" stroke-width="2"/>
<line x1="1432.5" y1="605" x2="1432.5" y2="602" stroke="#fff" stroke-width="2"/>
<line x1="1442.2" y1="47.3" x2="1442.2" y2="50.3" stroke="#fff" stroke-width="2"/>
<line x1="1442.2" y1="605" x2="1442.2" y2="602" stroke="#fff" stroke-width="2"/>
<line x1="1452.0" y1="47.3" x2="1452.0" y2="50.3" stroke="#fff" stroke-width="2"/>
<line x1="1452.0" y1="605" x2="1452.0" y2="602" stroke="#fff" stroke-width="2"/>
<line x1="1461.7" y1="47.3" x2="1461.7" y2="50.3" stroke="#fff" stroke-width="2"/>
<line x1="1461.7" y1="605" x2="1461.7" y2="602" stroke="#fff" stroke-width="2"/>
<line x1="1471.5" y1="47.3" x2="1471.5" y2="54.3" stroke="#fff" stroke-width="2"/>
<line x1="1471.5" y1="605" x2="1471.5" y2="598" stroke="#fff" stroke-width="2"/>
<line x1="1481.3" y1="47.3" x2="1481.3" y2="50.3" stroke="#fff" stroke-width="2"/>
<line x1="1481.3" y1="605" x2="1481.3" y2="602" stroke="#fff" stroke-width="2"/>
<line x1="1491.0" y1="47.3" x2="1491.0" y2="50.3" stroke="#fff" stroke-width="2"/>
<line x1="1491.0" y1="605" x2="1491.0" y2="602" stroke="#fff" stroke-width="2"/>
<line x1="1500.8" y1="47.3" x2="1500.8" y2="50.3" stroke="#fff" stroke-width="2"/>
<line x1="1500.8" y1="605" x2="1500.8" y2="602" stroke="#fff" stroke-width="2"/>
<line x1="1510.5" y1="47.3" x2="1510.5" y2="50.3" stroke="#fff" stroke-width="2"/>
<line x1="1510.5" y1="605" x2="1510.5" y2="602" stroke="#fff" stroke-width="2"/>
<line x1="1520.3" y1="47.3" x2="1520.3" y2="54.3" stroke="#fff" stroke-width="2"/>
<line x1="1520.3" y1="605" x2="1520.3" y2="598" stroke="#fff" stroke-width="2"/>
<line x1="1530.1" y1="47.3" x2="1530.1" y2="50.3" stroke="#fff" stroke-width="2"/>
<line x1="1530.1" y1="605" x2="1530.1" y2="602" stroke="#fff" stroke-width="2"/>
<line x1="1539.8" y1="47.3" x2="1539.8" y2="50.3" stroke="#fff" stroke-width="2"/>
<line x1="1539.8" y1="605" x2="1539.8" y2="602" stroke="#fff" stroke-width="2"/>
<line x1="1549.6" y1="47.3" x2="1549.6" y2="50.3" stroke="#fff" stroke-width="2"/>
<line x1="1549.6" y1="605" x2="1549.6" y2="602" stroke="#fff" stroke-width="2"/>
<line x1="1559.3" y1="47.3" x2="1559.3" y2="50.3" stroke="#fff" stroke-width="2"/>
<line x1="1559.3" y1="605" x2="1559.3" y2="602" stroke="#fff" stroke-width="2"/>
<line x1="1569.1" y1="47.3" x2="1569.1" y2="54.3" stroke="#fff" stroke-width="2"/>
<line x1="1569.1" y1="605" x2="1569.1" y2="598" stroke="#fff" stroke-width="2"/>
<line x1="1578.9" y1="47.3" x2="1578.9" y2="50.3" stroke="#fff" stroke-width="2"/>
<line x1="1578.9" y1="605" x2="1578.9" y2="602" stroke="#fff" stroke-width="2"/>
<line x1="1588.6" y1="47.3" x2="1588.6" y2="50.3" stroke="#fff" stroke-width="2"/>
<line x1="1588.6" y1="605" x2="1588.6" y2="602" stroke="#fff" stroke-width="2"/>
<line x1="1598.4" y1="47.3" x2="1598.4" y2="50.3" stroke="#fff" stroke-width="2"/>
<line x1="1598.4" y1="605" x2="1598.4" y2="602" stroke="#fff" stroke-width="2"/>
<line x1="1608.1" y1="47.3" x2="1608.1" y2="50.3" stroke="#fff" stroke-width="2"/>
<line x1="1608.1" y1="605" x2="1608.1" y2="602" stroke="#fff" stroke-width="2"/>
<line x1="1617.9" y1="47.3" x2="1617.9" y2="54.3" stroke="#fff" stroke-width="2"/>
<line x1="1617.9" y1="605" x2="1617.9" y2="598" stroke="#fff" stroke-width="2"/>
<line x1="1627.7" y1="47.3" x2="1627.7" y2="50.3" stroke="#fff" stroke-width="2"/>
<line x1="1627.7" y1="605" x2="1627.7" y2="602" stroke="#fff" stroke-width="2"/>
<line x1="1637.4" y1="47.3" x2="1637.4" y2="50.3" stroke="#fff" stroke-width="2"/>
<line x1="1637.4" y1="605" x2="1637.4" y2="602" stroke="#fff" stroke-width="2"/>
<line x1="1647.2" y1="47.3" x2="1647.2" y2="50.3" stroke="#fff" stroke-width="2"/>
<line x1="1647.2" y1="605" x2="1647.2" y2="602" stroke="#fff" stroke-width="2"/>
<line x1="1656.9" y1="47.3" x2="1656.9" y2="50.3" stroke="#fff" stroke-width="2"/>
<line x1="1656.9" y1="605" x2="1656.9" y2="602" stroke="#fff" stroke-width="2"/>
<line x1="1666.7" y1="47.3" x2="1666.7" y2="54.3" stroke="#fff" stroke-width="2"/>
<line x1="1666.7" y1="605" x2="1666.7" y2="598" stroke="#fff" stroke-width="2"/>
<line x1="1676.5" y1="47.3" x2="1676.5" y2="50.3" stroke="#fff" stroke-width="2"/>
<line x1="1676.5" y1="605" x2="1676.5" y2="602" stroke="#fff" stroke-width="2"/>
<line x1="1686.2" y1="47.3" x2="1686.2" y2="50.3" stroke="#fff" stroke-width="2"/>
<line x1="1686.2" y1="605" x2="1686.2" y2="602" stroke="#fff" stroke-width="2"/>
<line x1="1696.0" y1="47.3" x2="1696.0" y2="50.3" stroke="#fff" stroke-width="2"/>
<line x1="1696.0" y1="605" x2="1696.0" y2="602" stroke="#fff" stroke-width="2"/>
<line x1="1705.7" y1="47.3" x2="1705.7" y2="50.3" stroke="#fff" stroke-width="2"/>
<line x1="1705.7" y1="605" x2="1705.7" y2="602" stroke="#fff" stroke-width="2"/>
<line x1="1715.5" y1="47.3" x2="1715.5" y2="54.3" stroke="#fff" stroke-width="2"/>
<line x1="1715.5" y1="605" x2="1715.5" y2="598" stroke="#fff" stroke-width="2"/>
<line x1="1725.3" y1="47.3" x2="1725.3" y2="50.3" stroke="#fff" stroke-width="2"/>
<line x1="1725.3" y1="605" x2="1725.3" y2="602" stroke="#fff" stroke-width="2"/>
<line x1="1735.0" y1="47.3" x2="1735.0" y2="50.3" stroke="#fff" stroke-width="2"/>
<line x1="1735.0" y1="605" x2="1735.0" y2="602" stroke="#fff" stroke-width="2"/>
<line x1="1744.8" y1="47.3" x2="1744.8" y2="50.3" stroke="#fff" stroke-width="2"/>
<line x1="1744.8" y1="605" x2="1744.8" y2="602" stroke="#fff" stroke-width="2"/>
<line x1="1754.5" y1="47.3" x2="1754.5" y2="50.3" stroke="#fff" stroke-width="2"/>
<line x1="1754.5" y1="605" x2="1754.5" y2="602" stroke="#fff" stroke-width="2"/>
<line x1="1196.5" y1="48.7" x2="1203.5" y2="48.7" stroke="#fff" stroke-width="2"/>
<line x1="1755" y1="48.7" x2="1748" y2="48.7" stroke="#fff" stroke-width="2"/>
<line x1="1196.5" y1="71.8" x2="1199.5" y2="71.8" stroke="#fff" stroke-width="2"/>
<line x1="1755" y1="71.8" x2="1752" y2="71.8" stroke="#fff" stroke-width="2"/>
<line x1="1196.5" y1="94.8" x2="1199.5" y2="94.8" stroke="#fff" stroke-width="2"/>
<line x1="1755" y1="94.8" x2="1752" y2="94.8" stroke="#fff" stroke-width="2"/>
<line x1="1196.5" y1="117.9" x2="1199.5" y2="117.9" stroke="#fff" stroke-width="2"/>
<line x1="1755" y1="117.9" x2="1752" y2="117.9" stroke="#fff" stroke-width="2"/>
<line x1="1196.5" y1="140.9" x2="1203.5" y2="140.9" stroke="#fff" stroke-width="2"/>
<line x1="1755" y1="140.9" x2="1748" y2="140.9" stroke="#fff" stroke-width="2"/>
<line x1="1196.5" y1="164.0" x2="1199.5" y2="164.0" stroke="#fff" stroke-width="2"/>
<line x1="1755" y1="164.0" x2="1752" y2="164.0" stroke="#fff" stroke-width="2"/>
<line x1="1196.5" y1="187.0" x2="1199.5" y2="187.0" stroke="#fff" stroke-width="2"/>
<line x1="1755" y1="187.0" x2="1752" y2="187.0" stroke="#fff" stroke-width="2"/>
<line x1="1196.5" y1="210.1" x2="1199.5" y2="210.1" stroke="#fff" stroke-width="2"/>
<line x1="1755" y1="210.1" x2="1752" y2="210.1" stroke="#fff" stroke-width="2"/>
<line x1="1196.5" y1="233.1" x2="1203.5" y2="233.1" stroke="#fff" stroke-width="2"/>
<line x1="1755" y1="233.1" x2="1748" y2="233.1" stroke="#fff" stroke-width="2"/>
<line x1="1196.5" y1="256.2" x2="1199.5" y2="256.2" stroke="#fff" stroke-width="2"/>
<line x1="1755" y1="256.2" x2="1752" y2="256.2" stroke="#fff" stroke-width="2"/>
<line x1="1196.5" y1="279.2" x2="1199.5" y2="279.2" stroke="#fff" stroke-width="2"/>
<line x1="1755" y1="279.2" x2="1752" y2="279.2" stroke="#fff" stroke-width="2"/>
<line x1="1196.5" y1="302.3" x2="1199.5" y2="302.3" stroke="#fff" stroke-width="2"/>
<line x1="1755" y1="302.3" x2="1752" y2="302.3" stroke="#fff" stroke-width="2"/>
<line x1="1196.5" y1="325.3" x2="1203.5" y2="325.3" stroke="#fff" stroke-width="2"/>
<line x1="1755" y1="325.3" x2="1748" y2="325.3" stroke="#fff" stroke-width="2"/>
<line x1="1196.5" y1="348.4" x2="1199.5" y2="348.4" stroke="#fff" stroke-width="2"/>
<line x1="1755" y1="348.4" x2="1752" y2="348.4" stroke="#fff" stroke-width="2"/>
<line x1="1196.5" y1="371.4" x2="1199.5" y2="371.4" stroke="#fff" stroke-width="2"/>
<line x1="1755" y1="371.4" x2="1752" y2="371.4" stroke="#fff" stroke-width="2"/>
<line x1="1196.5" y1="394.5" x2="1199.5" y2="394.5" stroke="#fff" stroke-width="2"/>
<line x1="1755" y1="394.5" x2="1752" y2="394.5" stroke="#fff" stroke-width="2"/>
<line x1="1196.5" y1="417.5" x2="1203.5" y2="417.5" stroke="#fff" stroke-width="2"/>
<line x1="1755" y1="417.5" x2="1748" y2="417.5" stroke="#fff" stroke-width="2"/>
<line x1="1196.5" y1="440.6" x2="1199.5" y2="440.6" stroke="#fff" stroke-width="2"/>
<line x1="1755" y1="440.6" x2="1752" y2="440.6" stroke="#fff" stroke-width="2"/>
<line x1="1196.5" y1="463.6" x2="1199.5" y2="463.6" stroke="#fff" stroke-width="2"/>
<line x1="1755" y1="463.6" x2="1752" y2="463.6" stroke="#fff" stroke-width="2"/>
<line x1="1196.5" y1="486.7" x2="1199.5" y2="486.7" stroke="#fff" stroke-width="2"/>
<line x1="1755" y1="486.7" x2="1752" y2="486.7" stroke="#fff" stroke-width="2"/>
<line x1="1196.5" y1="509.7" x2="1203.5" y2="509.7" stroke="#fff" stroke-width="2"/>
<line x1="1755" y1="509.7" x2="1748" y2="509.7" stroke="#fff" stroke-width="2"/>
<line x1="1196.5" y1="532.8" x2="1199.5" y2="532.8" stroke="#fff" stroke-width="2"/>
<line x1="1755" y1="532.8" x2="1752" y2="532.8" stroke="#fff" stroke-width="2"/>
<line x1="1196.5" y1="555.8" x2="1199.5" y2="555.8" stroke="#fff" stroke-width="2"/>
<line x1="1755" y1="555.8" x2="1752" y2="555.8" stroke="#fff" stroke-width="2"/>
<line x1="1196.5" y1="578.9" x2="1199.5" y2="578.9" stroke="#fff" stroke-width="2"/>
<line x1="1755" y1="578.9" x2="1752" y2="578.9" stroke="#fff" stroke-width="2"/>
<line x1="1196.5" y1="601.9" x2="1203.5" y2="601.9" stroke="#fff" stroke-width="2"/>
<line x1="1755" y1="601.9" x2="1748" y2="601.9" stroke="#fff" stroke-width="2"/>
<rect x="1196.5" y="47.3" width="558.5" height="557.7" fill="none" stroke="#000" stroke-width="2.2"/>
<text x="0" y="0" font-size="42" text-anchor="start" fill="#fffff0" textLength="131.5" lengthAdjust="spacingAndGlyphs" transform="translate(1546.5 546.3)">ROSAT</text>
<text x="0" y="0" font-size="31" text-anchor="end" fill="#000" transform="translate(1190.0 71.4) scale(1 1.05)">10:00</text>
<text x="0" y="0" font-size="31" text-anchor="end" fill="#000" transform="translate(1190.0 163.6) scale(1 1.05)">12:00</text>
<text x="0" y="0" font-size="31" text-anchor="end" fill="#000" transform="translate(1190.0 255.9) scale(1 1.05)">14:00</text>
<text x="0" y="0" font-size="31" text-anchor="end" fill="#000" transform="translate(1190.0 349.0) scale(1 1.05)">16:00</text>
<text x="0" y="0" font-size="31" text-anchor="end" fill="#000" transform="translate(1190.0 442.2) scale(1 1.05)">18:00</text>
<text x="0" y="0" font-size="31" text-anchor="end" fill="#000" transform="translate(1190.0 533.9) scale(1 1.05)">-65:20:00</text>
<text x="0" y="0" font-size="31" text-anchor="end" fill="#000" transform="translate(1190.0 609.0) scale(1 1.05)">22:00</text>
<text x="0" y="0" font-size="31" text-anchor="middle" fill="#000" transform="translate(1227.9 643.5) scale(1 1.05)">20</text>
<text x="0" y="0" font-size="31" text-anchor="middle" fill="#000" transform="translate(1325.1 643.5) scale(1 1.05)">14:49:00</text>
<text x="0" y="0" font-size="31" text-anchor="middle" fill="#000" transform="translate(1421.4 643.5) scale(1 1.05)">40</text>
<text x="0" y="0" font-size="31" text-anchor="middle" fill="#000" transform="translate(1517.6 643.5) scale(1 1.05)">20</text>
<text x="0" y="0" font-size="31" text-anchor="middle" fill="#000" transform="translate(1614.4 643.5) scale(1 1.05)">48:00</text>
<text x="0" y="0" font-size="31" text-anchor="middle" fill="#000" transform="translate(1711.1 643.5) scale(1 1.05)">47:40</text>
<text x="0" y="0" font-size="46" text-anchor="start" fill="#000" textLength="480.5" lengthAdjust="spacingAndGlyphs" transform="translate(1235.3 731.8) scale(1 1.07)">Right Ascension [J2000]</text>
<text x="0" y="0" font-size="45" text-anchor="middle" fill="#000" textLength="387.1" lengthAdjust="spacingAndGlyphs" transform="translate(1062.3 326.6) rotate(-90)">Declination [J2000]</text>
<rect x="1807.5" y="2.5" width="64.0" height="751.5" fill="url(#cm)" stroke="#333" stroke-width="1.2"/>
<line x1="1871.5" y1="129" x2="1876.5" y2="129" stroke="#000" stroke-width="1.5"/>
<text x="0" y="0" font-size="31" text-anchor="start" fill="#000" transform="translate(1879.5 139.5) scale(1 1.05)">1.9</text>
<line x1="1871.5" y1="254" x2="1876.5" y2="254" stroke="#000" stroke-width="1.5"/>
<text x="0" y="0" font-size="31" text-anchor="start" fill="#000" transform="translate(1879.5 264.5) scale(1 1.05)">1.4</text>
<line x1="1871.5" y1="380" x2="1876.5" y2="380" stroke="#000" stroke-width="1.5"/>
<text x="0" y="0" font-size="31" text-anchor="start" fill="#000" transform="translate(1879.5 390.5) scale(1 1.05)">1.1</text>
<line x1="1871.5" y1="505" x2="1876.5" y2="505" stroke="#000" stroke-width="1.5"/>
<text x="0" y="0" font-size="31" text-anchor="start" fill="#000" transform="translate(1879.5 515.5) scale(1 1.05)">0.81</text>
<line x1="1871.5" y1="630" x2="1876.5" y2="630" stroke="#000" stroke-width="1.5"/>
<text x="0" y="0" font-size="31" text-anchor="start" fill="#000" transform="translate(1879.5 640.5) scale(1 1.05)">0.65</text>
<text x="0" y="0" font-size="44" text-anchor="middle" fill="#000" textLength="334.7" lengthAdjust="spacingAndGlyphs" transform="translate(1975.0 379.6) rotate(-90) scale(1 1.06)">Smoothed Counts</text>
<rect x="172.5" y="797" width="554.0" height="591.5" fill="#000"/>
<g clip-path="url(#c3)">
<rect x="173.9" y="798.9" width="37.2" height="25.5" fill="#0a0c78"/>
<rect x="211.1" y="798.9" width="15.7" height="43.1" fill="#1428e4"/>
<rect x="211.1" y="824.4" width="9.8" height="17.6" fill="#540c90"/>
<rect x="226.8" y="798.9" width="13.7" height="13.7" fill="#0a0c78"/>
<rect x="240.5" y="798.9" width="15.7" height="11.8" fill="#1428e4"/>
<rect x="256.2" y="798.9" width="29.3" height="13.7" fill="#0a0c78"/>
<rect x="179.8" y="824.4" width="31.3" height="21.5" fill="#1428e4"/>
<rect x="226.8" y="812.6" width="29.4" height="29.4" fill="#0a0c78"/>
<rect x="285.5" y="804.8" width="45.1" height="45.0" fill="#0a0c78"/>
<rect x="173.9" y="849.8" width="15.7" height="27.4" fill="#06063c"/>
<rect x="226.8" y="849.8" width="45.0" height="70.5" fill="#0a0c78"/>
<rect x="228.7" y="873.3" width="43.1" height="19.6" fill="#1a32fa"/>
<rect x="281.6" y="900.7" width="45.0" height="47.0" fill="#0a0c78"/>
<rect x="375.6" y="881.2" width="74.4" height="90.0" fill="#0a0c78"/>
<rect x="383.4" y="910.5" width="47.0" height="47.0" fill="#1428e4"/>
<rect x="403.0" y="902.7" width="21.6" height="41.1" fill="#540c90"/>
<rect x="405.0" y="912.5" width="9.8" height="13.7" fill="#e4102c"/>
<rect x="387.3" y="939.9" width="39.2" height="4.9" fill="#e4102c"/>
<rect x="397.1" y="804.8" width="52.9" height="19.6" fill="#0a0c78"/>
<rect x="422.6" y="810.7" width="19.6" height="13.7" fill="#1428e4"/>
<rect x="416.7" y="824.4" width="33.3" height="29.3" fill="#0a0c78"/>
<rect x="179.8" y="961.4" width="47.0" height="54.9" fill="#0a0c78"/>
<rect x="197.4" y="971.2" width="29.4" height="39.2" fill="#1428e4"/>
<rect x="254.2" y="977.1" width="45.0" height="52.9" fill="#0a0c78"/>
<rect x="297.3" y="955.6" width="48.9" height="70.5" fill="#0a0c78"/>
<rect x="297.3" y="979.1" width="25.4" height="21.5" fill="#1a32fa"/>
<rect x="322.7" y="979.1" width="17.7" height="21.5" fill="#540c90"/>
<rect x="342.3" y="955.6" width="25.5" height="45.0" fill="#0a0c78"/>
<rect x="403.0" y="1030.0" width="47.0" height="50.9" fill="#0a0c78"/>
<rect x="414.8" y="1035.8" width="35.2" height="43.1" fill="#1428e4"/>
<rect x="422.6" y="1041.7" width="25.4" height="31.3" fill="#540c90"/>
<rect x="416.7" y="971.2" width="33.3" height="50.9" fill="#0a0c78"/>
<rect x="173.9" y="1033.9" width="15.7" height="60.7" fill="#0a0c78"/>
<rect x="199.4" y="1073.0" width="27.4" height="21.6" fill="#0a0c78"/>
<rect x="346.2" y="1084.8" width="47.0" height="9.8" fill="#0a0c78"/>
<rect x="445.0" y="798.9" width="35.3" height="31.4" fill="#0a0c78"/>
<rect x="452.8" y="798.9" width="17.7" height="19.6" fill="#1428e4"/>
<rect x="480.3" y="798.9" width="19.5" height="19.6" fill="#1428e4"/>
<rect x="499.8" y="798.9" width="27.5" height="25.5" fill="#0a0c78"/>
<rect x="470.5" y="840.1" width="45.0" height="45.0" fill="#0a0c78"/>
<rect x="445.0" y="834.2" width="25.5" height="19.6" fill="#0a0c78"/>
<rect x="572.3" y="798.9" width="45.1" height="33.3" fill="#0a0c78"/>
<rect x="546.9" y="885.1" width="47.0" height="45.1" fill="#0a0c78"/>
<rect x="582.1" y="924.3" width="11.8" height="5.9" fill="#1428e4"/>
<rect x="572.3" y="930.2" width="45.1" height="56.8" fill="#0a0c78"/>
<rect x="615.4" y="965.4" width="29.4" height="17.6" fill="#1428e4"/>
<rect x="564.5" y="1020.3" width="29.4" height="45.0" fill="#0a0c78"/>
<rect x="599.7" y="987.0" width="43.1" height="45.0" fill="#1428e4"/>
<rect x="590.0" y="1030.1" width="21.5" height="31.3" fill="#1428e4"/>
<rect x="593.9" y="1020.3" width="19.6" height="9.8" fill="#540c90"/>
<rect x="613.5" y="1030.1" width="27.4" height="33.3" fill="#0a0c78"/>
<rect x="644.8" y="990.9" width="50.9" height="43.1" fill="#0a0c78"/>
<rect x="670.3" y="990.9" width="25.4" height="7.8" fill="#1428e4"/>
<rect x="670.3" y="832.2" width="47.0" height="64.7" fill="#0a0c78"/>
<rect x="680.1" y="849.8" width="37.2" height="47.1" fill="#1428e4"/>
<rect x="684.0" y="896.9" width="43.0" height="58.7" fill="#0a0c78"/>
<rect x="715.3" y="896.9" width="11.7" height="25.4" fill="#1428e4"/>
<rect x="717.3" y="930.2" width="7.8" height="7.8" fill="#540c90"/>
<rect x="670.3" y="957.6" width="56.7" height="33.3" fill="#0a0c78"/>
<rect x="693.8" y="957.6" width="23.5" height="17.6" fill="#1428e4"/>
<rect x="445.0" y="975.2" width="19.6" height="60.8" fill="#0a0c78"/>
<rect x="445.0" y="990.9" width="19.6" height="23.5" fill="#1428e4"/>
<rect x="445.0" y="1037.9" width="11.8" height="35.3" fill="#1428e4"/>
<rect x="445.0" y="1043.8" width="3.9" height="29.4" fill="#540c90"/>
<rect x="464.6" y="1065.3" width="45.0" height="29.4" fill="#0a0c78"/>
<rect x="476.3" y="1073.2" width="31.4" height="21.5" fill="#1428e4"/>
<rect x="717.3" y="1049.7" width="9.7" height="45.0" fill="#0a0c78"/>
<rect x="173.9" y="1093.9" width="50.9" height="25.5" fill="#0a0c78"/>
<rect x="173.9" y="1133.1" width="37.2" height="47.0" fill="#0a0c78"/>
<rect x="193.5" y="1144.8" width="17.6" height="35.3" fill="#1428e4"/>
<rect x="211.1" y="1142.9" width="27.4" height="47.0" fill="#0a0c78"/>
<rect x="193.5" y="1180.1" width="45.0" height="9.8" fill="#0a0c78"/>
<rect x="348.2" y="1090.0" width="45.0" height="41.1" fill="#0a0c78"/>
<rect x="386.4" y="1105.7" width="7.8" height="25.4" fill="#1428e4"/>
<rect x="393.2" y="1105.7" width="39.2" height="45.0" fill="#0a0c78"/>
<rect x="336.4" y="1164.4" width="49.0" height="62.7" fill="#0a0c78"/>
<rect x="348.2" y="1182.0" width="35.2" height="27.4" fill="#1a32fa"/>
<rect x="379.5" y="1217.3" width="45.1" height="45.0" fill="#0a0c78"/>
<rect x="424.6" y="1133.1" width="25.4" height="82.2" fill="#0a0c78"/>
<rect x="430.4" y="1168.3" width="19.6" height="11.8" fill="#1428e4"/>
<rect x="438.3" y="1248.6" width="11.7" height="29.4" fill="#0a0c78"/>
<rect x="219.0" y="1260.4" width="45.0" height="45.0" fill="#0a0c78"/>
<rect x="273.8" y="1238.8" width="47.0" height="47.0" fill="#0a0c78"/>
<rect x="311.0" y="1244.7" width="9.8" height="39.2" fill="#1428e4"/>
<rect x="320.8" y="1246.6" width="33.3" height="45.1" fill="#0a0c78"/>
<rect x="285.5" y="1293.6" width="45.1" height="49.0" fill="#0a0c78"/>
<rect x="203.3" y="1311.3" width="47.0" height="56.7" fill="#0a0c78"/>
<rect x="205.2" y="1321.1" width="45.1" height="43.0" fill="#1428e4"/>
<rect x="232.7" y="1330.8" width="17.6" height="25.5" fill="#540c90"/>
<rect x="250.3" y="1328.9" width="29.4" height="39.1" fill="#0a0c78"/>
<rect x="185.7" y="1373.9" width="43.0" height="15.7" fill="#1428e4"/>
<rect x="330.6" y="1342.6" width="45.0" height="47.0" fill="#0a0c78"/>
<rect x="464.6" y="1090.0" width="58.8" height="29.4" fill="#0a0c78"/>
<rect x="476.3" y="1090.0" width="23.5" height="21.5" fill="#1428e4"/>
<rect x="499.8" y="1101.8" width="23.6" height="17.6" fill="#1428e4"/>
<rect x="523.4" y="1101.8" width="19.5" height="43.0" fill="#0a0c78"/>
<rect x="445.0" y="1135.1" width="31.3" height="80.3" fill="#0a0c78"/>
<rect x="445.0" y="1168.4" width="25.5" height="11.7" fill="#1428e4"/>
<rect x="499.8" y="1119.4" width="23.6" height="27.4" fill="#0a0c78"/>
<rect x="523.4" y="1164.4" width="50.9" height="62.7" fill="#0a0c78"/>
<rect x="529.2" y="1176.2" width="45.1" height="47.0" fill="#1428e4"/>
<rect x="535.1" y="1217.3" width="31.3" height="3.9" fill="#540c90"/>
<rect x="497.9" y="1221.2" width="45.0" height="45.1" fill="#0a0c78"/>
<rect x="535.1" y="1223.2" width="9.8" height="39.2" fill="#1428e4"/>
<rect x="542.9" y="1223.2" width="37.3" height="39.2" fill="#0a0c78"/>
<rect x="445.0" y="1248.7" width="39.2" height="37.2" fill="#0a0c78"/>
<rect x="595.8" y="1235.0" width="45.1" height="45.0" fill="#0a0c78"/>
<rect x="595.8" y="1260.4" width="45.1" height="19.6" fill="#1428e4"/>
<rect x="621.3" y="1174.2" width="45.1" height="47.0" fill="#0a0c78"/>
<rect x="676.1" y="1119.4" width="23.6" height="45.0" fill="#0a0c78"/>
<rect x="697.7" y="1119.4" width="25.5" height="15.7" fill="#1428e4"/>
<rect x="711.4" y="1139.0" width="13.7" height="33.3" fill="#1428e4"/>
<rect x="687.9" y="1168.4" width="37.2" height="43.0" fill="#0a0c78"/>
<rect x="699.7" y="1168.4" width="25.4" height="43.0" fill="#1428e4"/>
<rect x="713.4" y="1168.4" width="11.7" height="17.6" fill="#540c90"/>
<rect x="699.7" y="1090.0" width="25.4" height="27.4" fill="#1428e4"/>
<rect x="544.9" y="1305.5" width="45.1" height="19.6" fill="#0a0c78"/>
<rect x="664.4" y="1305.5" width="43.1" height="60.7" fill="#0a0c78"/>
<rect x="674.2" y="1321.1" width="33.3" height="9.9" fill="#1428e4"/>
<rect x="480.3" y="1319.2" width="50.9" height="58.8" fill="#540c90"/>
<rect x="474.4" y="1325.1" width="49.0" height="7.8" fill="#1428e4"/>
<rect x="486.1" y="1331.0" width="39.2" height="41.1" fill="#e4102c"/>
<rect x="492.0" y="1332.9" width="31.4" height="31.3" fill="#ff5a1e"/>
<rect x="520.4" y="1354.4" width="3.9" height="13.8" fill="#ffe84a"/>
<rect x="525.3" y="1354.4" width="11.8" height="9.8" fill="#1428e4"/>
<rect x="554.7" y="1346.6" width="45.1" height="43.1" fill="#0a0c78"/>
<rect x="554.7" y="1354.4" width="9.8" height="35.3" fill="#1428e4"/>
<rect x="660.5" y="1368.2" width="45.0" height="21.5" fill="#0a0c78"/>
<use href="#contours"/>
</g>
<line x1="185.6" y1="797" x2="185.6" y2="800" stroke="#fff" stroke-width="2"/>
<line x1="185.6" y1="1388.5" x2="185.6" y2="1385.5" stroke="#fff" stroke-width="2"/>
<line x1="208.8" y1="797" x2="208.8" y2="800" stroke="#fff" stroke-width="2"/>
<line x1="208.8" y1="1388.5" x2="208.8" y2="1385.5" stroke="#fff" stroke-width="2"/>
<line x1="232.1" y1="797" x2="232.1" y2="800" stroke="#fff" stroke-width="2"/>
<line x1="232.1" y1="1388.5" x2="232.1" y2="1385.5" stroke="#fff" stroke-width="2"/>
<line x1="255.3" y1="797" x2="255.3" y2="800" stroke="#fff" stroke-width="2"/>
<line x1="255.3" y1="1388.5" x2="255.3" y2="1385.5" stroke="#fff" stroke-width="2"/>
<line x1="278.6" y1="797" x2="278.6" y2="800" stroke="#fff" stroke-width="2"/>
<line x1="278.6" y1="1388.5" x2="278.6" y2="1385.5" stroke="#fff" stroke-width="2"/>
<line x1="301.8" y1="797" x2="301.8" y2="805" stroke="#fff" stroke-width="2"/>
<line x1="301.8" y1="1388.5" x2="301.8" y2="1380.5" stroke="#fff" stroke-width="2"/>
<line x1="325.1" y1="797" x2="325.1" y2="800" stroke="#fff" stroke-width="2"/>
<line x1="325.1" y1="1388.5" x2="325.1" y2="1385.5" stroke="#fff" stroke-width="2"/>
<line x1="348.3" y1="797" x2="348.3" y2="800" stroke="#fff" stroke-width="2"/>
<line x1="348.3" y1="1388.5" x2="348.3" y2="1385.5" stroke="#fff" stroke-width="2"/>
<line x1="371.6" y1="797" x2="371.6" y2="800" stroke="#fff" stroke-width="2"/>
<line x1="371.6" y1="1388.5" x2="371.6" y2="1385.5" stroke="#fff" stroke-width="2"/>
<line x1="394.8" y1="797" x2="394.8" y2="800" stroke="#fff" stroke-width="2"/>
<line x1="394.8" y1="1388.5" x2="394.8" y2="1385.5" stroke="#fff" stroke-width="2"/>
<line x1="418.1" y1="797" x2="418.1" y2="800" stroke="#fff" stroke-width="2"/>
<line x1="418.1" y1="1388.5" x2="418.1" y2="1385.5" stroke="#fff" stroke-width="2"/>
<line x1="441.3" y1="797" x2="441.3" y2="805" stroke="#fff" stroke-width="2"/>
<line x1="441.3" y1="1388.5" x2="441.3" y2="1380.5" stroke="#fff" stroke-width="2"/>
<line x1="464.6" y1="797" x2="464.6" y2="800" stroke="#fff" stroke-width="2"/>
<line x1="464.6" y1="1388.5" x2="464.6" y2="1385.5" stroke="#fff" stroke-width="2"/>
<line x1="487.8" y1="797" x2="487.8" y2="800" stroke="#fff" stroke-width="2"/>
<line x1="487.8" y1="1388.5" x2="487.8" y2="1385.5" stroke="#fff" stroke-width="2"/>
<line x1="511.1" y1="797" x2="511.1" y2="800" stroke="#fff" stroke-width="2"/>
<line x1="511.1" y1="1388.5" x2="511.1" y2="1385.5" stroke="#fff" stroke-width="2"/>
<line x1="534.3" y1="797" x2="534.3" y2="800" stroke="#fff" stroke-width="2"/>
<line x1="534.3" y1="1388.5" x2="534.3" y2="1385.5" stroke="#fff" stroke-width="2"/>
<line x1="557.5" y1="797" x2="557.5" y2="800" stroke="#fff" stroke-width="2"/>
<line x1="557.5" y1="1388.5" x2="557.5" y2="1385.5" stroke="#fff" stroke-width="2"/>
<line x1="580.8" y1="797" x2="580.8" y2="805" stroke="#fff" stroke-width="2"/>
<line x1="580.8" y1="1388.5" x2="580.8" y2="1380.5" stroke="#fff" stroke-width="2"/>
<line x1="604.0" y1="797" x2="604.0" y2="800" stroke="#fff" stroke-width="2"/>
<line x1="604.0" y1="1388.5" x2="604.0" y2="1385.5" stroke="#fff" stroke-width="2"/>
<line x1="627.3" y1="797" x2="627.3" y2="800" stroke="#fff" stroke-width="2"/>
<line x1="627.3" y1="1388.5" x2="627.3" y2="1385.5" stroke="#fff" stroke-width="2"/>
<line x1="650.5" y1="797" x2="650.5" y2="800" stroke="#fff" stroke-width="2"/>
<line x1="650.5" y1="1388.5" x2="650.5" y2="1385.5" stroke="#fff" stroke-width="2"/>
<line x1="673.8" y1="797" x2="673.8" y2="800" stroke="#fff" stroke-width="2"/>
<line x1="673.8" y1="1388.5" x2="673.8" y2="1385.5" stroke="#fff" stroke-width="2"/>
<line x1="697.0" y1="797" x2="697.0" y2="800" stroke="#fff" stroke-width="2"/>
<line x1="697.0" y1="1388.5" x2="697.0" y2="1385.5" stroke="#fff" stroke-width="2"/>
<line x1="720.3" y1="797" x2="720.3" y2="805" stroke="#fff" stroke-width="2"/>
<line x1="720.3" y1="1388.5" x2="720.3" y2="1380.5" stroke="#fff" stroke-width="2"/>
<line x1="172.5" y1="811.1" x2="175.5" y2="811.1" stroke="#fff" stroke-width="2"/>
<line x1="726.5" y1="811.1" x2="723.5" y2="811.1" stroke="#fff" stroke-width="2"/>
<line x1="172.5" y1="833.3" x2="180.5" y2="833.3" stroke="#fff" stroke-width="2"/>
<line x1="726.5" y1="833.3" x2="718.5" y2="833.3" stroke="#fff" stroke-width="2"/>
<line x1="172.5" y1="855.5" x2="175.5" y2="855.5" stroke="#fff" stroke-width="2"/>
<line x1="726.5" y1="855.5" x2="723.5" y2="855.5" stroke="#fff" stroke-width="2"/>
<line x1="172.5" y1="877.8" x2="175.5" y2="877.8" stroke="#fff" stroke-width="2"/>
<line x1="726.5" y1="877.8" x2="723.5" y2="877.8" stroke="#fff" stroke-width="2"/>
<line x1="172.5" y1="900.0" x2="175.5" y2="900.0" stroke="#fff" stroke-width="2"/>
<line x1="726.5" y1="900.0" x2="723.5" y2="900.0" stroke="#fff" stroke-width="2"/>
<line x1="172.5" y1="922.2" x2="180.5" y2="922.2" stroke="#fff" stroke-width="2"/>
<line x1="726.5" y1="922.2" x2="718.5" y2="922.2" stroke="#fff" stroke-width="2"/>
<line x1="172.5" y1="944.4" x2="175.5" y2="944.4" stroke="#fff" stroke-width="2"/>
<line x1="726.5" y1="944.4" x2="723.5" y2="944.4" stroke="#fff" stroke-width="2"/>
<line x1="172.5" y1="966.7" x2="175.5" y2="966.7" stroke="#fff" stroke-width="2"/>
<line x1="726.5" y1="966.7" x2="723.5" y2="966.7" stroke="#fff" stroke-width="2"/>
<line x1="172.5" y1="988.9" x2="175.5" y2="988.9" stroke="#fff" stroke-width="2"/>
<line x1="726.5" y1="988.9" x2="723.5" y2="988.9" stroke="#fff" stroke-width="2"/>
<line x1="172.5" y1="1011.1" x2="180.5" y2="1011.1" stroke="#fff" stroke-width="2"/>
<line x1="726.5" y1="1011.1" x2="718.5" y2="1011.1" stroke="#fff" stroke-width="2"/>
<line x1="172.5" y1="1033.3" x2="175.5" y2="1033.3" stroke="#fff" stroke-width="2"/>
<line x1="726.5" y1="1033.3" x2="723.5" y2="1033.3" stroke="#fff" stroke-width="2"/>
<line x1="172.5" y1="1055.5" x2="175.5" y2="1055.5" stroke="#fff" stroke-width="2"/>
<line x1="726.5" y1="1055.5" x2="723.5" y2="1055.5" stroke="#fff" stroke-width="2"/>
<line x1="172.5" y1="1077.8" x2="175.5" y2="1077.8" stroke="#fff" stroke-width="2"/>
<line x1="726.5" y1="1077.8" x2="723.5" y2="1077.8" stroke="#fff" stroke-width="2"/>
<line x1="172.5" y1="1100.0" x2="180.5" y2="1100.0" stroke="#fff" stroke-width="2"/>
<line x1="726.5" y1="1100.0" x2="718.5" y2="1100.0" stroke="#fff" stroke-width="2"/>
<line x1="172.5" y1="1122.2" x2="175.5" y2="1122.2" stroke="#fff" stroke-width="2"/>
<line x1="726.5" y1="1122.2" x2="723.5" y2="1122.2" stroke="#fff" stroke-width="2"/>
<line x1="172.5" y1="1144.4" x2="175.5" y2="1144.4" stroke="#fff" stroke-width="2"/>
<line x1="726.5" y1="1144.4" x2="723.5" y2="1144.4" stroke="#fff" stroke-width="2"/>
<line x1="172.5" y1="1166.7" x2="175.5" y2="1166.7" stroke="#fff" stroke-width="2"/>
<line x1="726.5" y1="1166.7" x2="723.5" y2="1166.7" stroke="#fff" stroke-width="2"/>
<line x1="172.5" y1="1188.9" x2="180.5" y2="1188.9" stroke="#fff" stroke-width="2"/>
<line x1="726.5" y1="1188.9" x2="718.5" y2="1188.9" stroke="#fff" stroke-width="2"/>
<line x1="172.5" y1="1211.1" x2="175.5" y2="1211.1" stroke="#fff" stroke-width="2"/>
<line x1="726.5" y1="1211.1" x2="723.5" y2="1211.1" stroke="#fff" stroke-width="2"/>
<line x1="172.5" y1="1233.3" x2="175.5" y2="1233.3" stroke="#fff" stroke-width="2"/>
<line x1="726.5" y1="1233.3" x2="723.5" y2="1233.3" stroke="#fff" stroke-width="2"/>
<line x1="172.5" y1="1255.6" x2="175.5" y2="1255.6" stroke="#fff" stroke-width="2"/>
<line x1="726.5" y1="1255.6" x2="723.5" y2="1255.6" stroke="#fff" stroke-width="2"/>
<line x1="172.5" y1="1277.8" x2="180.5" y2="1277.8" stroke="#fff" stroke-width="2"/>
<line x1="726.5" y1="1277.8" x2="718.5" y2="1277.8" stroke="#fff" stroke-width="2"/>
<line x1="172.5" y1="1300.0" x2="175.5" y2="1300.0" stroke="#fff" stroke-width="2"/>
<line x1="726.5" y1="1300.0" x2="723.5" y2="1300.0" stroke="#fff" stroke-width="2"/>
<line x1="172.5" y1="1322.2" x2="175.5" y2="1322.2" stroke="#fff" stroke-width="2"/>
<line x1="726.5" y1="1322.2" x2="723.5" y2="1322.2" stroke="#fff" stroke-width="2"/>
<line x1="172.5" y1="1344.5" x2="175.5" y2="1344.5" stroke="#fff" stroke-width="2"/>
<line x1="726.5" y1="1344.5" x2="723.5" y2="1344.5" stroke="#fff" stroke-width="2"/>
<line x1="172.5" y1="1366.7" x2="180.5" y2="1366.7" stroke="#fff" stroke-width="2"/>
<line x1="726.5" y1="1366.7" x2="718.5" y2="1366.7" stroke="#fff" stroke-width="2"/>
<rect x="172.5" y="797" width="554.0" height="591.5" fill="none" stroke="#000" stroke-width="2.2"/>
<text x="0" y="0" font-size="41" text-anchor="start" fill="#fffff0" textLength="287.0" lengthAdjust="spacingAndGlyphs" transform="translate(434.8 1306.5)">XRT-Hard Band</text>
<text x="0" y="0" font-size="31" text-anchor="end" fill="#000" transform="translate(166.0 851.3) scale(1 1.05)">10:00</text>
<text x="0" y="0" font-size="31" text-anchor="end" fill="#000" transform="translate(166.0 940.2) scale(1 1.05)">12:00</text>
<text x="0" y="0" font-size="31" text-anchor="end" fill="#000" transform="translate(166.0 1029.1) scale(1 1.05)">14:00</text>
<text x="0" y="0" font-size="31" text-anchor="end" fill="#000" transform="translate(166.0 1118.0) scale(1 1.05)">16:00</text>
<text x="0" y="0" font-size="31" text-anchor="end" fill="#000" transform="translate(166.0 1206.9) scale(1 1.05)">18:00</text>
<text x="0" y="0" font-size="31" text-anchor="end" fill="#000" transform="translate(166.0 1295.8) scale(1 1.05)">-65:20:00</text>
<text x="0" y="0" font-size="31" text-anchor="end" fill="#000" transform="translate(166.0 1384.7) scale(1 1.05)">22:00</text>
<text x="0" y="0" font-size="31" text-anchor="middle" fill="#000" transform="translate(302.2 1428.0) scale(1 1.05)">49:00</text>
<text x="0" y="0" font-size="31" text-anchor="middle" fill="#000" transform="translate(441.3 1428.0) scale(1 1.05)">30</text>
<text x="0" y="0" font-size="31" text-anchor="middle" fill="#000" transform="translate(581.2 1428.0) scale(1 1.05)">14:48:00</text>
<text x="0" y="0" font-size="31" text-anchor="middle" fill="#000" transform="translate(719.6 1428.0) scale(1 1.05)">47:30</text>
<text x="0" y="0" font-size="46" text-anchor="start" fill="#000" textLength="489.5" lengthAdjust="spacingAndGlyphs" transform="translate(204.0 1518.0) scale(1 1.07)">Right Ascension [J2000]</text>
<text x="0" y="0" font-size="45" text-anchor="middle" fill="#000" textLength="388.0" lengthAdjust="spacingAndGlyphs" transform="translate(36.4 1090.5) rotate(-90)">Declination [J2000]</text>
<rect x="768" y="762.5" width="65.5" height="766.0" fill="url(#cm1)" stroke="#333" stroke-width="1.2"/>
<line x1="833.5" y1="890.4" x2="838.5" y2="890.4" stroke="#000" stroke-width="1.5"/>
<text x="0" y="0" font-size="31" text-anchor="start" fill="#000" transform="translate(842.0 900.9) scale(1 1.05)">0.0417</text>
<line x1="833.5" y1="1018" x2="838.5" y2="1018" stroke="#000" stroke-width="1.5"/>
<text x="0" y="0" font-size="31" text-anchor="start" fill="#000" transform="translate(842.0 1028.5) scale(1 1.05)">0.0333</text>
<line x1="833.5" y1="1145.6" x2="838.5" y2="1145.6" stroke="#000" stroke-width="1.5"/>
<text x="0" y="0" font-size="31" text-anchor="start" fill="#000" transform="translate(842.0 1156.1) scale(1 1.05)">0.0250</text>
<line x1="833.5" y1="1273" x2="838.5" y2="1273" stroke="#000" stroke-width="1.5"/>
<text x="0" y="0" font-size="31" text-anchor="start" fill="#000" transform="translate(842.0 1283.5) scale(1 1.05)">0.0167</text>
<line x1="833.5" y1="1401" x2="838.5" y2="1401" stroke="#000" stroke-width="1.5"/>
<text x="0" y="0" font-size="31" text-anchor="start" fill="#000" transform="translate(842.0 1411.5) scale(1 1.05)">0.0083</text>
<text x="0" y="0" font-size="44" text-anchor="middle" fill="#000" textLength="342.0" lengthAdjust="spacingAndGlyphs" transform="translate(989.0 1140.5) rotate(-90) scale(1 1.06)">Smoothed Counts</text>
<rect x="1225" y="801.5" width="550" height="588.0" fill="#000"/>
<g clip-path="url(#c4)">
<rect x="1225.9" y="801.9" width="97.9" height="25.5" fill="#0a0c78"/>
<rect x="1225.9" y="801.9" width="15.7" height="9.8" fill="#1428e4"/>
<rect x="1253.3" y="803.9" width="19.6" height="7.8" fill="#1428e4"/>
<rect x="1325.8" y="801.9" width="17.6" height="15.7" fill="#1428e4"/>
<rect x="1276.8" y="811.7" width="123.4" height="31.3" fill="#0a0c78"/>
<rect x="1400.2" y="801.9" width="74.4" height="23.5" fill="#0a0c78"/>
<rect x="1430.5" y="801.9" width="13.7" height="23.5" fill="#1428e4"/>
<rect x="1225.9" y="827.4" width="97.9" height="19.6" fill="#0a0c78"/>
<rect x="1251.4" y="833.2" width="21.5" height="13.8" fill="#1428e4"/>
<rect x="1335.6" y="839.1" width="47.0" height="45.1" fill="#0a0c78"/>
<rect x="1343.4" y="839.1" width="39.2" height="23.5" fill="#1428e4"/>
<rect x="1382.6" y="833.2" width="50.9" height="43.1" fill="#0a0c78"/>
<rect x="1439.3" y="835.2" width="47.0" height="45.0" fill="#0a0c78"/>
<rect x="1388.4" y="874.4" width="45.1" height="45.0" fill="#0a0c78"/>
<rect x="1225.9" y="856.7" width="37.2" height="58.8" fill="#0a0c78"/>
<rect x="1225.9" y="866.5" width="35.3" height="13.7" fill="#1428e4"/>
<rect x="1345.4" y="913.5" width="43.0" height="41.1" fill="#0a0c78"/>
<rect x="1345.4" y="915.5" width="43.0" height="35.2" fill="#1428e4"/>
<rect x="1437.4" y="903.7" width="45.0" height="43.1" fill="#0a0c78"/>
<rect x="1480.5" y="884.2" width="21.5" height="84.2" fill="#0a0c78"/>
<rect x="1392.4" y="948.8" width="45.0" height="47.0" fill="#0a0c78"/>
<rect x="1447.2" y="968.4" width="54.8" height="45.0" fill="#0a0c78"/>
<rect x="1351.2" y="1009.5" width="45.1" height="45.0" fill="#0a0c78"/>
<rect x="1435.4" y="1015.3" width="45.1" height="47.0" fill="#0a0c78"/>
<rect x="1271.0" y="1017.3" width="43.0" height="47.0" fill="#0a0c78"/>
<rect x="1225.9" y="1040.8" width="13.7" height="56.8" fill="#540c90"/>
<rect x="1225.9" y="1040.8" width="13.7" height="9.8" fill="#1428e4"/>
<rect x="1247.5" y="1031.0" width="50.9" height="66.6" fill="#1428e4"/>
<rect x="1253.3" y="1050.6" width="39.2" height="25.4" fill="#540c90"/>
<rect x="1271.0" y="1052.6" width="21.5" height="9.7" fill="#e4102c"/>
<rect x="1316.0" y="1060.4" width="43.1" height="37.2" fill="#0a0c78"/>
<rect x="1538.1" y="801.9" width="72.5" height="33.3" fill="#0a0c78"/>
<rect x="1565.5" y="801.9" width="18.6" height="33.3" fill="#1428e4"/>
<rect x="1573.4" y="801.9" width="10.7" height="5.9" fill="#540c90"/>
<rect x="1497.0" y="884.2" width="27.4" height="45.0" fill="#0a0c78"/>
<rect x="1538.1" y="897.9" width="23.5" height="45.0" fill="#0a0c78"/>
<rect x="1561.6" y="874.4" width="23.5" height="52.8" fill="#0a0c78"/>
<rect x="1561.6" y="897.9" width="23.5" height="21.5" fill="#1428e4"/>
<rect x="1585.1" y="894.0" width="25.5" height="33.2" fill="#0a0c78"/>
<rect x="1594.9" y="894.0" width="11.8" height="21.5" fill="#1428e4"/>
<rect x="1600.8" y="927.2" width="47.0" height="47.0" fill="#0a0c78"/>
<rect x="1606.7" y="911.6" width="31.3" height="23.5" fill="#1428e4"/>
<rect x="1608.6" y="929.2" width="29.4" height="9.8" fill="#540c90"/>
<rect x="1604.7" y="939.0" width="41.1" height="21.5" fill="#1428e4"/>
<rect x="1659.5" y="845.0" width="45.1" height="49.0" fill="#0a0c78"/>
<rect x="1610.6" y="894.0" width="48.9" height="41.1" fill="#0a0c78"/>
<rect x="1638.0" y="911.6" width="54.8" height="43.0" fill="#0a0c78"/>
<rect x="1724.1" y="825.4" width="50.9" height="99.9" fill="#0a0c78"/>
<rect x="1743.7" y="835.2" width="19.6" height="21.5" fill="#1428e4"/>
<rect x="1751.6" y="856.7" width="19.5" height="39.2" fill="#1428e4"/>
<rect x="1763.3" y="880.2" width="11.7" height="13.8" fill="#e4102c"/>
<rect x="1757.4" y="895.9" width="17.6" height="27.4" fill="#540c90"/>
<rect x="1712.4" y="927.2" width="47.0" height="66.6" fill="#0a0c78"/>
<rect x="1677.1" y="948.8" width="47.0" height="74.4" fill="#0a0c78"/>
<rect x="1681.1" y="948.8" width="21.5" height="45.0" fill="#1428e4"/>
<rect x="1704.6" y="978.1" width="19.5" height="15.7" fill="#1428e4"/>
<rect x="1497.0" y="950.7" width="41.1" height="35.3" fill="#0a0c78"/>
<rect x="1555.7" y="968.4" width="45.1" height="31.3" fill="#0a0c78"/>
<rect x="1499.0" y="993.8" width="47.0" height="56.8" fill="#0a0c78"/>
<rect x="1500.9" y="1005.6" width="54.8" height="45.0" fill="#1428e4"/>
<rect x="1510.7" y="1005.6" width="33.3" height="33.2" fill="#540c90"/>
<rect x="1559.7" y="997.7" width="43.0" height="50.9" fill="#0a0c78"/>
<rect x="1559.7" y="999.7" width="41.1" height="13.7" fill="#1428e4"/>
<rect x="1559.7" y="1027.1" width="31.3" height="17.6" fill="#1428e4"/>
<rect x="1626.2" y="993.8" width="43.1" height="45.0" fill="#0a0c78"/>
<rect x="1747.6" y="1001.6" width="27.4" height="47.0" fill="#0a0c78"/>
<rect x="1544.0" y="1050.6" width="47.0" height="21.5" fill="#0a0c78"/>
<rect x="1606.7" y="1076.0" width="45.0" height="21.6" fill="#0a0c78"/>
<rect x="1608.6" y="1087.8" width="43.1" height="9.8" fill="#1428e4"/>
<rect x="1526.4" y="1087.8" width="29.3" height="9.8" fill="#0a0c78"/>
<rect x="1769.2" y="1058.4" width="5.8" height="23.5" fill="#1428e4"/>
<rect x="1316.0" y="1093.0" width="45.0" height="9.8" fill="#0a0c78"/>
<rect x="1225.9" y="1093.0" width="19.6" height="35.2" fill="#0a0c78"/>
<rect x="1271.0" y="1106.7" width="45.0" height="45.0" fill="#0a0c78"/>
<rect x="1225.9" y="1149.8" width="11.8" height="52.9" fill="#0a0c78"/>
<rect x="1225.9" y="1155.7" width="11.8" height="35.2" fill="#1428e4"/>
<rect x="1241.6" y="1159.6" width="45.0" height="50.9" fill="#0a0c78"/>
<rect x="1241.6" y="1171.3" width="43.1" height="33.3" fill="#1428e4"/>
<rect x="1271.0" y="1198.7" width="11.7" height="11.8" fill="#540c90"/>
<rect x="1257.2" y="1210.5" width="103.8" height="78.3" fill="#0a0c78"/>
<rect x="1257.2" y="1212.4" width="45.1" height="29.4" fill="#1428e4"/>
<rect x="1316.0" y="1210.5" width="45.0" height="54.8" fill="#0a0c78"/>
<rect x="1331.7" y="1243.8" width="29.3" height="13.7" fill="#1428e4"/>
<rect x="1263.1" y="1239.9" width="33.3" height="17.6" fill="#e4102c"/>
<rect x="1267.0" y="1257.5" width="37.2" height="29.4" fill="#540c90"/>
<rect x="1280.7" y="1286.9" width="66.6" height="74.4" fill="#540c90"/>
<rect x="1288.6" y="1300.6" width="63.4" height="57.4" fill="#e4102c"/>
<rect x="1290.5" y="1302.5" width="55.5" height="49.5" fill="#ff5a1e"/>
<rect x="1292.5" y="1304.5" width="39.2" height="41.1" fill="#ffe84a"/>
<rect x="1304.2" y="1308.4" width="15.7" height="35.2" fill="#ffffd8"/>
<rect x="1447.2" y="1100.8" width="45.0" height="50.9" fill="#0a0c78"/>
<rect x="1455.0" y="1173.3" width="47.0" height="48.9" fill="#0a0c78"/>
<rect x="1468.7" y="1187.0" width="31.3" height="47.0" fill="#1428e4"/>
<rect x="1468.7" y="1198.7" width="31.3" height="19.6" fill="#540c90"/>
<rect x="1451.1" y="1228.1" width="50.9" height="64.6" fill="#0a0c78"/>
<rect x="1457.0" y="1249.6" width="41.1" height="25.5" fill="#1428e4"/>
<rect x="1480.5" y="1284.9" width="21.5" height="45.0" fill="#0a0c78"/>
<rect x="1394.3" y="1281.0" width="37.2" height="41.1" fill="#0a0c78"/>
<rect x="1343.4" y="1328.0" width="47.0" height="31.3" fill="#540c90"/>
<rect x="1306.2" y="1359.3" width="45.0" height="33.3" fill="#0a0c78"/>
<rect x="1312.1" y="1359.3" width="19.6" height="15.7" fill="#540c90"/>
<rect x="1359.1" y="1355.4" width="45.0" height="37.2" fill="#0a0c78"/>
<rect x="1361.0" y="1363.2" width="29.4" height="19.6" fill="#1428e4"/>
<rect x="1225.9" y="1288.8" width="17.6" height="47.0" fill="#0a0c78"/>
<rect x="1225.9" y="1290.8" width="11.8" height="15.6" fill="#1428e4"/>
<rect x="1225.9" y="1369.1" width="41.1" height="23.5" fill="#0a0c78"/>
<rect x="1327.7" y="1375.0" width="15.7" height="7.8" fill="#e4102c"/>
<rect x="1526.4" y="1093.0" width="68.5" height="49.0" fill="#0a0c78"/>
<rect x="1549.9" y="1096.9" width="21.5" height="43.1" fill="#1428e4"/>
<rect x="1608.6" y="1093.0" width="45.0" height="29.4" fill="#1428e4"/>
<rect x="1596.9" y="1128.2" width="47.0" height="47.0" fill="#0a0c78"/>
<rect x="1618.4" y="1151.7" width="25.5" height="21.6" fill="#1428e4"/>
<rect x="1653.6" y="1093.0" width="60.8" height="45.0" fill="#0a0c78"/>
<rect x="1516.6" y="1142.0" width="45.0" height="43.0" fill="#0a0c78"/>
<rect x="1546.0" y="1149.8" width="15.6" height="35.2" fill="#1428e4"/>
<rect x="1561.6" y="1147.8" width="29.4" height="45.1" fill="#0a0c78"/>
<rect x="1618.4" y="1173.3" width="43.1" height="25.4" fill="#0a0c78"/>
<rect x="1659.5" y="1163.5" width="45.1" height="45.0" fill="#0a0c78"/>
<rect x="1714.4" y="1165.5" width="45.0" height="45.0" fill="#0a0c78"/>
<rect x="1751.6" y="1167.4" width="7.8" height="25.5" fill="#1428e4"/>
<rect x="1761.3" y="1183.1" width="15.7" height="37.2" fill="#0a0c78"/>
<rect x="1497.0" y="1187.0" width="17.6" height="56.8" fill="#0a0c78"/>
<rect x="1497.0" y="1196.8" width="17.6" height="33.3" fill="#1428e4"/>
<rect x="1497.0" y="1198.7" width="3.9" height="17.7" fill="#540c90"/>
<rect x="1534.2" y="1226.2" width="45.0" height="45.0" fill="#0a0c78"/>
<rect x="1608.6" y="1218.3" width="45.0" height="47.0" fill="#0a0c78"/>
<rect x="1636.0" y="1239.9" width="17.6" height="23.5" fill="#1428e4"/>
<rect x="1653.6" y="1239.9" width="27.5" height="33.2" fill="#0a0c78"/>
<rect x="1669.3" y="1241.8" width="11.8" height="29.4" fill="#1428e4"/>
<rect x="1669.3" y="1226.2" width="45.1" height="45.0" fill="#0a0c78"/>
<rect x="1726.1" y="1263.4" width="45.0" height="45.0" fill="#0a0c78"/>
<rect x="1497.0" y="1308.4" width="27.4" height="23.5" fill="#0a0c78"/>
<rect x="1526.4" y="1329.9" width="52.8" height="56.8" fill="#0a0c78"/>
<rect x="1526.4" y="1339.7" width="45.0" height="39.2" fill="#1428e4"/>
<rect x="1536.2" y="1351.5" width="33.3" height="23.5" fill="#540c90"/>
<rect x="1665.4" y="1326.0" width="45.0" height="47.0" fill="#0a0c78"/>
<rect x="1667.4" y="1343.6" width="33.2" height="25.5" fill="#1428e4"/>
<rect x="1602.7" y="1376.9" width="47.0" height="15.7" fill="#0a0c78"/>
<rect x="1712.4" y="1371.0" width="45.0" height="21.6" fill="#0a0c78"/>
<rect x="1767.2" y="1316.2" width="9.8" height="45.1" fill="#0a0c78"/>
<use href="#contours" transform="translate(1225 801.5) scale(0.99278 0.99408) translate(-172.5 -797)"/>
</g>
<line x1="1237.2" y1="801.5" x2="1237.2" y2="804.5" stroke="#fff" stroke-width="2"/>
<line x1="1237.2" y1="1389.5" x2="1237.2" y2="1386.5" stroke="#fff" stroke-width="2"/>
<line x1="1260.3" y1="801.5" x2="1260.3" y2="804.5" stroke="#fff" stroke-width="2"/>
<line x1="1260.3" y1="1389.5" x2="1260.3" y2="1386.5" stroke="#fff" stroke-width="2"/>
<line x1="1283.5" y1="801.5" x2="1283.5" y2="804.5" stroke="#fff" stroke-width="2"/>
<line x1="1283.5" y1="1389.5" x2="1283.5" y2="1386.5" stroke="#fff" stroke-width="2"/>
<line x1="1306.7" y1="801.5" x2="1306.7" y2="804.5" stroke="#fff" stroke-width="2"/>
<line x1="1306.7" y1="1389.5" x2="1306.7" y2="1386.5" stroke="#fff" stroke-width="2"/>
<line x1="1329.8" y1="801.5" x2="1329.8" y2="804.5" stroke="#fff" stroke-width="2"/>
<line x1="1329.8" y1="1389.5" x2="1329.8" y2="1386.5" stroke="#fff" stroke-width="2"/>
<line x1="1353.0" y1="801.5" x2="1353.0" y2="809.5" stroke="#fff" stroke-width="2"/>
<line x1="1353.0" y1="1389.5" x2="1353.0" y2="1381.5" stroke="#fff" stroke-width="2"/>
<line x1="1376.2" y1="801.5" x2="1376.2" y2="804.5" stroke="#fff" stroke-width="2"/>
<line x1="1376.2" y1="1389.5" x2="1376.2" y2="1386.5" stroke="#fff" stroke-width="2"/>
<line x1="1399.3" y1="801.5" x2="1399.3" y2="804.5" stroke="#fff" stroke-width="2"/>
<line x1="1399.3" y1="1389.5" x2="1399.3" y2="1386.5" stroke="#fff" stroke-width="2"/>
<line x1="1422.5" y1="801.5" x2="1422.5" y2="804.5" stroke="#fff" stroke-width="2"/>
<line x1="1422.5" y1="1389.5" x2="1422.5" y2="1386.5" stroke="#fff" stroke-width="2"/>
<line x1="1445.7" y1="801.5" x2="1445.7" y2="804.5" stroke="#fff" stroke-width="2"/>
<line x1="1445.7" y1="1389.5" x2="1445.7" y2="1386.5" stroke="#fff" stroke-width="2"/>
<line x1="1468.8" y1="801.5" x2="1468.8" y2="804.5" stroke="#fff" stroke-width="2"/>
<line x1="1468.8" y1="1389.5" x2="1468.8" y2="1386.5" stroke="#fff" stroke-width="2"/>
<line x1="1492.0" y1="801.5" x2="1492.0" y2="809.5" stroke="#fff" stroke-width="2"/>
<line x1="1492.0" y1="1389.5" x2="1492.0" y2="1381.5" stroke="#fff" stroke-width="2"/>
<line x1="1515.2" y1="801.5" x2="1515.2" y2="804.5" stroke="#fff" stroke-width="2"/>
<line x1="1515.2" y1="1389.5" x2="1515.2" y2="1386.5" stroke="#fff" stroke-width="2"/>
<line x1="1538.3" y1="801.5" x2="1538.3" y2="804.5" stroke="#fff" stroke-width="2"/>
<line x1="1538.3" y1="1389.5" x2="1538.3" y2="1386.5" stroke="#fff" stroke-width="2"/>
<line x1="1561.5" y1="801.5" x2="1561.5" y2="804.5" stroke="#fff" stroke-width="2"/>
<line x1="1561.5" y1="1389.5" x2="1561.5" y2="1386.5" stroke="#fff" stroke-width="2"/>
<line x1="1584.7" y1="801.5" x2="1584.7" y2="804.5" stroke="#fff" stroke-width="2"/>
<line x1="1584.7" y1="1389.5" x2="1584.7" y2="1386.5" stroke="#fff" stroke-width="2"/>
<line x1="1607.8" y1="801.5" x2="1607.8" y2="804.5" stroke="#fff" stroke-width="2"/>
<line x1="1607.8" y1="1389.5" x2="1607.8" y2="1386.5" stroke="#fff" stroke-width="2"/>
<line x1="1631.0" y1="801.5" x2="1631.0" y2="809.5" stroke="#fff" stroke-width="2"/>
<line x1="1631.0" y1="1389.5" x2="1631.0" y2="1381.5" stroke="#fff" stroke-width="2"/>
<line x1="1654.2" y1="801.5" x2="1654.2" y2="804.5" stroke="#fff" stroke-width="2"/>
<line x1="1654.2" y1="1389.5" x2="1654.2" y2="1386.5" stroke="#fff" stroke-width="2"/>
<line x1="1677.3" y1="801.5" x2="1677.3" y2="804.5" stroke="#fff" stroke-width="2"/>
<line x1="1677.3" y1="1389.5" x2="1677.3" y2="1386.5" stroke="#fff" stroke-width="2"/>
<line x1="1700.5" y1="801.5" x2="1700.5" y2="804.5" stroke="#fff" stroke-width="2"/>
<line x1="1700.5" y1="1389.5" x2="1700.5" y2="1386.5" stroke="#fff" stroke-width="2"/>
<line x1="1723.7" y1="801.5" x2="1723.7" y2="804.5" stroke="#fff" stroke-width="2"/>
<line x1="1723.7" y1="1389.5" x2="1723.7" y2="1386.5" stroke="#fff" stroke-width="2"/>
<line x1="1746.8" y1="801.5" x2="1746.8" y2="804.5" stroke="#fff" stroke-width="2"/>
<line x1="1746.8" y1="1389.5" x2="1746.8" y2="1386.5" stroke="#fff" stroke-width="2"/>
<line x1="1770.0" y1="801.5" x2="1770.0" y2="809.5" stroke="#fff" stroke-width="2"/>
<line x1="1770.0" y1="1389.5" x2="1770.0" y2="1381.5" stroke="#fff" stroke-width="2"/>
<line x1="1225" y1="814.4" x2="1228" y2="814.4" stroke="#fff" stroke-width="2"/>
<line x1="1775" y1="814.4" x2="1772" y2="814.4" stroke="#fff" stroke-width="2"/>
<line x1="1225" y1="836.5" x2="1233" y2="836.5" stroke="#fff" stroke-width="2"/>
<line x1="1775" y1="836.5" x2="1767" y2="836.5" stroke="#fff" stroke-width="2"/>
<line x1="1225" y1="858.6" x2="1228" y2="858.6" stroke="#fff" stroke-width="2"/>
<line x1="1775" y1="858.6" x2="1772" y2="858.6" stroke="#fff" stroke-width="2"/>
<line x1="1225" y1="880.8" x2="1228" y2="880.8" stroke="#fff" stroke-width="2"/>
<line x1="1775" y1="880.8" x2="1772" y2="880.8" stroke="#fff" stroke-width="2"/>
<line x1="1225" y1="902.9" x2="1228" y2="902.9" stroke="#fff" stroke-width="2"/>
<line x1="1775" y1="902.9" x2="1772" y2="902.9" stroke="#fff" stroke-width="2"/>
<line x1="1225" y1="925.1" x2="1233" y2="925.1" stroke="#fff" stroke-width="2"/>
<line x1="1775" y1="925.1" x2="1767" y2="925.1" stroke="#fff" stroke-width="2"/>
<line x1="1225" y1="947.2" x2="1228" y2="947.2" stroke="#fff" stroke-width="2"/>
<line x1="1775" y1="947.2" x2="1772" y2="947.2" stroke="#fff" stroke-width="2"/>
<line x1="1225" y1="969.3" x2="1228" y2="969.3" stroke="#fff" stroke-width="2"/>
<line x1="1775" y1="969.3" x2="1772" y2="969.3" stroke="#fff" stroke-width="2"/>
<line x1="1225" y1="991.5" x2="1228" y2="991.5" stroke="#fff" stroke-width="2"/>
<line x1="1775" y1="991.5" x2="1772" y2="991.5" stroke="#fff" stroke-width="2"/>
<line x1="1225" y1="1013.6" x2="1233" y2="1013.6" stroke="#fff" stroke-width="2"/>
<line x1="1775" y1="1013.6" x2="1767" y2="1013.6" stroke="#fff" stroke-width="2"/>
<line x1="1225" y1="1035.7" x2="1228" y2="1035.7" stroke="#fff" stroke-width="2"/>
<line x1="1775" y1="1035.7" x2="1772" y2="1035.7" stroke="#fff" stroke-width="2"/>
<line x1="1225" y1="1057.9" x2="1228" y2="1057.9" stroke="#fff" stroke-width="2"/>
<line x1="1775" y1="1057.9" x2="1772" y2="1057.9" stroke="#fff" stroke-width="2"/>
<line x1="1225" y1="1080.0" x2="1228" y2="1080.0" stroke="#fff" stroke-width="2"/>
<line x1="1775" y1="1080.0" x2="1772" y2="1080.0" stroke="#fff" stroke-width="2"/>
<line x1="1225" y1="1102.2" x2="1233" y2="1102.2" stroke="#fff" stroke-width="2"/>
<line x1="1775" y1="1102.2" x2="1767" y2="1102.2" stroke="#fff" stroke-width="2"/>
<line x1="1225" y1="1124.3" x2="1228" y2="1124.3" stroke="#fff" stroke-width="2"/>
<line x1="1775" y1="1124.3" x2="1772" y2="1124.3" stroke="#fff" stroke-width="2"/>
<line x1="1225" y1="1146.4" x2="1228" y2="1146.4" stroke="#fff" stroke-width="2"/>
<line x1="1775" y1="1146.4" x2="1772" y2="1146.4" stroke="#fff" stroke-width="2"/>
<line x1="1225" y1="1168.6" x2="1228" y2="1168.6" stroke="#fff" stroke-width="2"/>
<line x1="1775" y1="1168.6" x2="1772" y2="1168.6" stroke="#fff" stroke-width="2"/>
<line x1="1225" y1="1190.7" x2="1233" y2="1190.7" stroke="#fff" stroke-width="2"/>
<line x1="1775" y1="1190.7" x2="1767" y2="1190.7" stroke="#fff" stroke-width="2"/>
<line x1="1225" y1="1212.8" x2="1228" y2="1212.8" stroke="#fff" stroke-width="2"/>
<line x1="1775" y1="1212.8" x2="1772" y2="1212.8" stroke="#fff" stroke-width="2"/>
<line x1="1225" y1="1235.0" x2="1228" y2="1235.0" stroke="#fff" stroke-width="2"/>
<line x1="1775" y1="1235.0" x2="1772" y2="1235.0" stroke="#fff" stroke-width="2"/>
<line x1="1225" y1="1257.1" x2="1228" y2="1257.1" stroke="#fff" stroke-width="2"/>
<line x1="1775" y1="1257.1" x2="1772" y2="1257.1" stroke="#fff" stroke-width="2"/>
<line x1="1225" y1="1279.3" x2="1233" y2="1279.3" stroke="#fff" stroke-width="2"/>
<line x1="1775" y1="1279.3" x2="1767" y2="1279.3" stroke="#fff" stroke-width="2"/>
<line x1="1225" y1="1301.4" x2="1228" y2="1301.4" stroke="#fff" stroke-width="2"/>
<line x1="1775" y1="1301.4" x2="1772" y2="1301.4" stroke="#fff" stroke-width="2"/>
<line x1="1225" y1="1323.5" x2="1228" y2="1323.5" stroke="#fff" stroke-width="2"/>
<line x1="1775" y1="1323.5" x2="1772" y2="1323.5" stroke="#fff" stroke-width="2"/>
<line x1="1225" y1="1345.7" x2="1228" y2="1345.7" stroke="#fff" stroke-width="2"/>
<line x1="1775" y1="1345.7" x2="1772" y2="1345.7" stroke="#fff" stroke-width="2"/>
<line x1="1225" y1="1367.8" x2="1233" y2="1367.8" stroke="#fff" stroke-width="2"/>
<line x1="1775" y1="1367.8" x2="1767" y2="1367.8" stroke="#fff" stroke-width="2"/>
<rect x="1225" y="801.5" width="550" height="588.0" fill="none" stroke="#000" stroke-width="2.2"/>
<text x="0" y="0" font-size="41" text-anchor="start" fill="#fffff0" textLength="261.5" lengthAdjust="spacingAndGlyphs" transform="translate(1497.5 1306.5)">XRT-Soft Band</text>
<text x="0" y="0" font-size="31" text-anchor="end" fill="#000" transform="translate(1217.3 854.5) scale(1 1.05)">10:00</text>
<text x="0" y="0" font-size="31" text-anchor="end" fill="#000" transform="translate(1217.3 943.0) scale(1 1.05)">12:00</text>
<text x="0" y="0" font-size="31" text-anchor="end" fill="#000" transform="translate(1217.3 1031.6) scale(1 1.05)">14:00</text>
<text x="0" y="0" font-size="31" text-anchor="end" fill="#000" transform="translate(1217.3 1120.2) scale(1 1.05)">16:00</text>
<text x="0" y="0" font-size="31" text-anchor="end" fill="#000" transform="translate(1217.3 1208.7) scale(1 1.05)">18:00</text>
<text x="0" y="0" font-size="31" text-anchor="end" fill="#000" transform="translate(1217.3 1297.2) scale(1 1.05)">-65:20:00</text>
<text x="0" y="0" font-size="31" text-anchor="end" fill="#000" transform="translate(1217.3 1385.8) scale(1 1.05)">22:00</text>
<text x="0" y="0" font-size="31" text-anchor="middle" fill="#000" transform="translate(1353.2 1428.5) scale(1 1.05)">49:00</text>
<text x="0" y="0" font-size="31" text-anchor="middle" fill="#000" transform="translate(1492.0 1428.5) scale(1 1.05)">30</text>
<text x="0" y="0" font-size="31" text-anchor="middle" fill="#000" transform="translate(1631.0 1428.5) scale(1 1.05)">14:48:00</text>
<text x="0" y="0" font-size="31" text-anchor="middle" fill="#000" transform="translate(1769.3 1428.5) scale(1 1.05)">47:30</text>
<text x="0" y="0" font-size="46" text-anchor="start" fill="#000" textLength="484.5" lengthAdjust="spacingAndGlyphs" transform="translate(1256.3 1512.4) scale(1 1.07)">Right Ascension [J2000]</text>
<text x="0" y="0" font-size="45" text-anchor="middle" fill="#000" textLength="388.9" lengthAdjust="spacingAndGlyphs" transform="translate(1083.8 1095.0) rotate(-90)">Declination [J2000]</text>
<rect x="1817.5" y="768" width="64.0" height="759.5" fill="url(#cm1)" stroke="#333" stroke-width="1.2"/>
<line x1="1881.5" y1="893.5" x2="1886.5" y2="893.5" stroke="#000" stroke-width="1.5"/>
<text x="0" y="0" font-size="31" text-anchor="start" fill="#000" transform="translate(1890.0 904.0) scale(1 1.05)">0.0417</text>
<line x1="1881.5" y1="1021" x2="1886.5" y2="1021" stroke="#000" stroke-width="1.5"/>
<text x="0" y="0" font-size="31" text-anchor="start" fill="#000" transform="translate(1890.0 1031.5) scale(1 1.05)">0.0333</text>
<line x1="1881.5" y1="1148.5" x2="1886.5" y2="1148.5" stroke="#000" stroke-width="1.5"/>
<text x="0" y="0" font-size="31" text-anchor="start" fill="#000" transform="translate(1890.0 1159.0) scale(1 1.05)">0.0250</text>
<line x1="1881.5" y1="1276" x2="1886.5" y2="1276" stroke="#000" stroke-width="1.5"/>
<text x="0" y="0" font-size="31" text-anchor="start" fill="#000" transform="translate(1890.0 1286.5) scale(1 1.05)">0.0167</text>
<line x1="1881.5" y1="1402" x2="1886.5" y2="1402" stroke="#000" stroke-width="1.5"/>
<text x="0" y="0" font-size="31" text-anchor="start" fill="#000" transform="translate(1890.0 1412.5) scale(1 1.05)">0.0083</text>
<text x="0" y="0" font-size="44" text-anchor="middle" fill="#000" textLength="338.2" lengthAdjust="spacingAndGlyphs" transform="translate(2043.0 1158.3) rotate(-90) scale(1 1.06)">Smoothed Counts</text>
</svg>
</body></html>
